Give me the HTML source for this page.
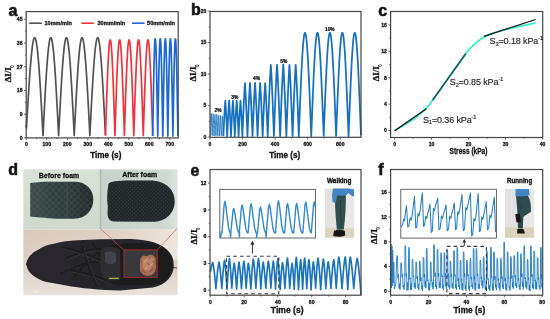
<!DOCTYPE html>
<html><head><meta charset="utf-8"><style>
html,body{margin:0;padding:0;background:#fff;}
body{width:550px;height:319px;overflow:hidden;}
svg{display:block;font-family:"Liberation Sans",sans-serif;filter:blur(0.45px);}
</style></head><body>
<svg width="550" height="319" viewBox="0 0 550 319">
<text x="8.6" y="15.6" font-size="16" text-anchor="start" font-weight="bold" fill="#111" stroke="#111" stroke-width="0.56">a</text>
<text transform="translate(10.6,82.3) rotate(-90)" font-family="Liberation Serif" font-size="9.2" font-weight="bold" fill="#111" stroke="#111" stroke-width="0.3" textLength="15" lengthAdjust="spacingAndGlyphs">ΔI/I</text>
<text transform="translate(13.7,67.9) rotate(-90)" font-family="Liberation Sans" font-size="4.8" font-weight="bold" fill="#333">0</text>
<path d="M26.4,128.41 L26.52,126.4 L26.64,124.38 L26.76,122.37 L26.88,120.35 L27,118.34 L27.12,116.33 L27.24,114.33 L27.36,112.32 L27.48,110.33 L27.6,108.34 L27.72,106.37 L27.84,104.4 L27.96,102.44 L28.08,100.49 L28.2,98.56 L28.32,96.64 L28.44,94.73 L28.57,92.84 L28.69,90.97 L28.81,89.11 L28.93,87.28 L29.05,85.46 L29.17,83.66 L29.29,81.89 L29.41,80.14 L29.53,78.41 L29.65,76.71 L29.77,75.03 L29.89,73.38 L30.01,71.76 L30.13,70.16 L30.25,68.59 L30.37,67.06 L30.49,65.55 L30.61,64.08 L30.73,62.64 L30.85,61.23 L30.97,59.86 L31.09,58.52 L31.21,57.22 L31.33,55.95 L31.45,54.73 L31.57,53.53 L31.69,52.38 L31.81,51.27 L31.93,50.2 L32.05,49.17 L32.17,48.18 L32.29,47.23 L32.41,46.32 L32.53,45.46 L32.66,44.64 L32.78,43.86 L32.9,43.13 L33.02,42.44 L33.14,41.8 L33.26,41.2 L33.38,40.65 L33.5,40.15 L33.62,39.69 L33.74,39.28 L33.86,38.92 L33.98,38.61 L34.1,38.34 L34.22,38.12 L34.34,37.95 L34.46,37.83 L34.58,37.76 L34.7,37.73 L34.82,37.76 L34.94,37.83 L35.06,37.95 L35.18,38.12 L35.3,38.34 L35.42,38.61 L35.54,38.93 L35.66,39.3 L35.78,39.71 L35.9,40.18 L36.02,40.69 L36.14,41.25 L36.26,41.86 L36.38,42.51 L36.5,43.22 L36.62,43.97 L36.74,44.77 L36.87,45.61 L36.99,46.5 L37.11,47.44 L37.23,48.42 L37.35,49.45 L37.47,50.52 L37.59,51.63 L37.71,52.79 L37.83,53.99 L37.95,55.24 L38.07,56.52 L38.19,57.85 L38.31,59.22 L38.43,60.62 L38.55,62.07 L38.67,63.56 L38.79,65.08 L38.91,66.64 L39.03,68.24 L39.15,69.87 L39.27,71.54 L39.39,73.24 L39.51,74.97 L39.63,76.74 L39.75,78.54 L39.87,80.37 L39.99,82.23 L40.11,84.12 L40.23,86.04 L40.35,87.98 L40.47,89.95 L40.59,91.95 L40.71,93.96 L40.83,96.01 L40.96,98.07 L41.08,100.16 L41.2,102.26 L41.32,104.39 L41.44,106.53 L41.56,108.69 L41.68,110.87 L41.8,113.06 L41.92,115.26 L42.04,117.48 L42.16,119.71 L42.28,121.94 L42.4,124.19 L42.52,126.45 L42.64,128.71 L42.76,130.98 L42.88,133.25 L43,135.53 L43.12,133.16 L43.24,130.8 L43.36,128.44 L43.48,126.09 L43.6,123.74 L43.72,121.4 L43.84,119.06 L43.96,116.74 L44.08,114.42 L44.2,112.12 L44.32,109.84 L44.44,107.56 L44.56,105.31 L44.68,103.07 L44.8,100.85 L44.92,98.65 L45.04,96.47 L45.16,94.32 L45.28,92.19 L45.4,90.08 L45.52,88 L45.64,85.95 L45.76,83.93 L45.88,81.93 L46,79.97 L46.12,78.04 L46.24,76.15 L46.36,74.29 L46.48,72.46 L46.6,70.68 L46.72,68.93 L46.84,67.22 L46.97,65.55 L47.09,63.91 L47.21,62.33 L47.33,60.78 L47.45,59.28 L47.57,57.82 L47.69,56.41 L47.81,55.04 L47.93,53.72 L48.05,52.45 L48.17,51.23 L48.29,50.06 L48.41,48.93 L48.53,47.86 L48.65,46.84 L48.77,45.87 L48.89,44.95 L49.01,44.09 L49.13,43.28 L49.25,42.52 L49.37,41.82 L49.49,41.17 L49.61,40.57 L49.73,40.04 L49.85,39.55 L49.97,39.13 L50.09,38.76 L50.21,38.45 L50.33,38.19 L50.45,37.99 L50.57,37.85 L50.69,37.76 L50.81,37.73 L50.93,37.76 L51.05,37.85 L51.17,37.99 L51.29,38.19 L51.41,38.45 L51.53,38.76 L51.65,39.13 L51.77,39.55 L51.89,40.04 L52.01,40.57 L52.13,41.17 L52.25,41.82 L52.37,42.52 L52.49,43.28 L52.61,44.09 L52.73,44.95 L52.85,45.87 L52.97,46.84 L53.09,47.86 L53.21,48.93 L53.33,50.06 L53.45,51.23 L53.57,52.45 L53.69,53.72 L53.81,55.04 L53.93,56.41 L54.05,57.82 L54.17,59.28 L54.29,60.78 L54.41,62.33 L54.53,63.91 L54.65,65.55 L54.78,67.22 L54.9,68.93 L55.02,70.68 L55.14,72.46 L55.26,74.29 L55.38,76.15 L55.5,78.04 L55.62,79.97 L55.74,81.93 L55.86,83.93 L55.98,85.95 L56.1,88 L56.22,90.08 L56.34,92.19 L56.46,94.32 L56.58,96.47 L56.7,98.65 L56.82,100.85 L56.94,103.07 L57.06,105.31 L57.18,107.56 L57.3,109.84 L57.42,112.12 L57.54,114.42 L57.66,116.74 L57.78,119.06 L57.9,121.4 L58.02,123.74 L58.14,126.09 L58.26,128.44 L58.38,130.8 L58.5,133.16 L58.62,135.53 L58.74,133.16 L58.86,130.8 L58.98,128.44 L59.1,126.09 L59.22,123.74 L59.34,121.4 L59.46,119.06 L59.58,116.74 L59.7,114.42 L59.82,112.12 L59.94,109.84 L60.06,107.56 L60.18,105.31 L60.3,103.07 L60.42,100.85 L60.54,98.65 L60.66,96.47 L60.78,94.32 L60.9,92.19 L61.02,90.08 L61.14,88 L61.26,85.95 L61.38,83.93 L61.5,81.93 L61.62,79.97 L61.74,78.04 L61.86,76.15 L61.98,74.29 L62.1,72.46 L62.22,70.68 L62.34,68.93 L62.46,67.22 L62.59,65.55 L62.71,63.91 L62.83,62.33 L62.95,60.78 L63.07,59.28 L63.19,57.82 L63.31,56.41 L63.43,55.04 L63.55,53.72 L63.67,52.45 L63.79,51.23 L63.91,50.06 L64.03,48.93 L64.15,47.86 L64.27,46.84 L64.39,45.87 L64.51,44.95 L64.63,44.09 L64.75,43.28 L64.87,42.52 L64.99,41.82 L65.11,41.17 L65.23,40.57 L65.35,40.04 L65.47,39.55 L65.59,39.13 L65.71,38.76 L65.83,38.45 L65.95,38.19 L66.07,37.99 L66.19,37.85 L66.31,37.76 L66.43,37.73 L66.55,37.76 L66.67,37.85 L66.79,37.99 L66.91,38.19 L67.03,38.45 L67.15,38.76 L67.27,39.13 L67.39,39.55 L67.51,40.04 L67.63,40.57 L67.75,41.17 L67.87,41.82 L67.99,42.52 L68.11,43.28 L68.23,44.09 L68.35,44.95 L68.47,45.87 L68.59,46.84 L68.71,47.86 L68.83,48.93 L68.95,50.06 L69.07,51.23 L69.19,52.45 L69.31,53.72 L69.43,55.04 L69.55,56.41 L69.67,57.82 L69.79,59.28 L69.91,60.78 L70.03,62.33 L70.15,63.91 L70.27,65.55 L70.4,67.22 L70.52,68.93 L70.64,70.68 L70.76,72.46 L70.88,74.29 L71,76.15 L71.12,78.04 L71.24,79.97 L71.36,81.93 L71.48,83.93 L71.6,85.95 L71.72,88 L71.84,90.08 L71.96,92.19 L72.08,94.32 L72.2,96.47 L72.32,98.65 L72.44,100.85 L72.56,103.07 L72.68,105.31 L72.8,107.56 L72.92,109.84 L73.04,112.12 L73.16,114.42 L73.28,116.74 L73.4,119.06 L73.52,121.4 L73.64,123.74 L73.76,126.09 L73.88,128.44 L74,130.8 L74.12,133.16 L74.24,135.53 L74.36,133.16 L74.48,130.8 L74.6,128.44 L74.72,126.09 L74.84,123.74 L74.96,121.4 L75.08,119.06 L75.2,116.74 L75.32,114.42 L75.44,112.12 L75.56,109.84 L75.68,107.56 L75.8,105.31 L75.92,103.07 L76.04,100.85 L76.16,98.65 L76.28,96.47 L76.4,94.32 L76.52,92.19 L76.64,90.08 L76.76,88 L76.88,85.95 L77,83.93 L77.12,81.93 L77.24,79.97 L77.36,78.04 L77.48,76.15 L77.6,74.29 L77.72,72.46 L77.84,70.68 L77.96,68.93 L78.08,67.22 L78.21,65.55 L78.33,63.91 L78.45,62.33 L78.57,60.78 L78.69,59.28 L78.81,57.82 L78.93,56.41 L79.05,55.04 L79.17,53.72 L79.29,52.45 L79.41,51.23 L79.53,50.06 L79.65,48.93 L79.77,47.86 L79.89,46.84 L80.01,45.87 L80.13,44.95 L80.25,44.09 L80.37,43.28 L80.49,42.52 L80.61,41.82 L80.73,41.17 L80.85,40.57 L80.97,40.04 L81.09,39.55 L81.21,39.13 L81.33,38.76 L81.45,38.45 L81.57,38.19 L81.69,37.99 L81.81,37.85 L81.93,37.76 L82.05,37.73 L82.17,37.76 L82.29,37.85 L82.41,37.99 L82.53,38.19 L82.65,38.45 L82.77,38.76 L82.89,39.13 L83.01,39.55 L83.13,40.04 L83.25,40.57 L83.37,41.17 L83.49,41.82 L83.61,42.52 L83.73,43.28 L83.85,44.09 L83.97,44.95 L84.09,45.87 L84.21,46.84 L84.33,47.86 L84.45,48.93 L84.57,50.06 L84.69,51.23 L84.81,52.45 L84.93,53.72 L85.05,55.04 L85.17,56.41 L85.29,57.82 L85.41,59.28 L85.53,60.78 L85.65,62.33 L85.77,63.91 L85.89,65.55 L86.02,67.22 L86.14,68.93 L86.26,70.68 L86.38,72.46 L86.5,74.29 L86.62,76.15 L86.74,78.04 L86.86,79.97 L86.98,81.93 L87.1,83.93 L87.22,85.95 L87.34,88 L87.46,90.08 L87.58,92.19 L87.7,94.32 L87.82,96.47 L87.94,98.65 L88.06,100.85 L88.18,103.07 L88.3,105.31 L88.42,107.56 L88.54,109.84 L88.66,112.12 L88.78,114.42 L88.9,116.74 L89.02,119.06 L89.14,121.4 L89.26,123.74 L89.38,126.09 L89.5,128.44 L89.62,130.8 L89.74,133.16 L89.86,135.53 L89.98,133.16 L90.1,130.8 L90.22,128.44 L90.34,126.09 L90.46,123.74 L90.58,121.4 L90.7,119.06 L90.82,116.74 L90.94,114.42 L91.06,112.12 L91.18,109.84 L91.3,107.56 L91.42,105.31 L91.54,103.07 L91.66,100.85 L91.78,98.65 L91.9,96.47 L92.02,94.32 L92.14,92.19 L92.26,90.08 L92.38,88 L92.5,85.95 L92.62,83.93 L92.74,81.93 L92.86,79.97 L92.98,78.04 L93.1,76.15 L93.22,74.29 L93.34,72.46 L93.46,70.68 L93.58,68.93 L93.7,67.22 L93.83,65.55 L93.95,63.91 L94.07,62.33 L94.19,60.78 L94.31,59.28 L94.43,57.82 L94.55,56.41 L94.67,55.04 L94.79,53.72 L94.91,52.45 L95.03,51.23 L95.15,50.06 L95.27,48.93 L95.39,47.86 L95.51,46.84 L95.63,45.87 L95.75,44.95 L95.87,44.09 L95.99,43.28 L96.11,42.52 L96.23,41.82 L96.35,41.17 L96.47,40.57 L96.59,40.04 L96.71,39.55 L96.83,39.13 L96.95,38.76 L97.07,38.45 L97.19,38.19 L97.31,37.99 L97.43,37.85 L97.55,37.76 L97.67,37.73 L97.79,37.76 L97.91,37.85 L98.03,37.99 L98.15,38.19 L98.27,38.45 L98.39,38.76 L98.51,39.13 L98.63,39.55 L98.75,40.04 L98.87,40.57 L98.99,41.17 L99.11,41.82 L99.23,42.52 L99.35,43.28 L99.47,44.09 L99.59,44.95 L99.71,45.87 L99.83,46.84 L99.95,47.86 L100.07,48.93 L100.19,50.06 L100.31,51.23 L100.43,52.45 L100.55,53.72 L100.67,55.04 L100.79,56.41 L100.91,57.82 L101.03,59.28 L101.15,60.78 L101.27,62.33 L101.39,63.91 L101.51,65.55 L101.64,67.22 L101.76,68.93 L101.88,70.68 L102,72.46 L102.12,74.29 L102.24,76.15 L102.36,78.04 L102.48,79.97 L102.6,81.93 L102.72,83.93 L102.84,85.95 L102.96,88 L103.08,90.08 L103.2,92.19 L103.32,94.32 L103.44,96.47 L103.56,98.65 L103.68,100.85 L103.8,103.07 L103.92,105.31 L104.04,107.56 L104.16,109.84 L104.28,112.12 L104.4,114.42 L104.52,116.74 L104.64,119.06 L104.76,121.4 L104.88,123.74 L105,126.09 L105.12,128.44 L105.24,130.8 L105.36,133.16 L105.48,135.53" stroke="#525252" stroke-width="1.7" fill="none" stroke-linejoin="round"/>
<path d="M105.5,135.53 L105.62,131.67 L105.74,127.83 L105.86,123.99 L105.98,120.18 L106.11,116.39 L106.23,112.63 L106.35,108.91 L106.47,105.23 L106.59,101.6 L106.71,98.02 L106.83,94.51 L106.95,91.06 L107.07,87.68 L107.19,84.39 L107.32,81.17 L107.44,78.04 L107.56,75.01 L107.68,72.08 L107.8,69.24 L107.92,66.52 L108.04,63.91 L108.16,61.41 L108.28,59.03 L108.4,56.78 L108.53,54.65 L108.65,52.66 L108.77,50.8 L108.89,49.08 L109.01,47.5 L109.13,46.06 L109.25,44.77 L109.37,43.62 L109.49,42.62 L109.61,41.77 L109.74,41.08 L109.86,40.54 L109.98,40.15 L110.1,39.92 L110.22,39.84 L110.34,39.92 L110.46,40.15 L110.58,40.54 L110.7,41.08 L110.83,41.77 L110.95,42.62 L111.07,43.62 L111.19,44.77 L111.31,46.06 L111.43,47.5 L111.55,49.08 L111.67,50.8 L111.79,52.66 L111.91,54.65 L112.04,56.78 L112.16,59.03 L112.28,61.41 L112.4,63.91 L112.52,66.52 L112.64,69.24 L112.76,72.08 L112.88,75.01 L113,78.04 L113.12,81.17 L113.25,84.39 L113.37,87.68 L113.49,91.06 L113.61,94.51 L113.73,98.02 L113.85,101.6 L113.97,105.23 L114.09,108.91 L114.21,112.63 L114.33,116.39 L114.46,120.18 L114.58,123.99 L114.7,127.83 L114.82,131.67 L114.94,135.53 L115.06,131.67 L115.18,127.83 L115.3,123.99 L115.42,120.18 L115.55,116.39 L115.67,112.63 L115.79,108.91 L115.91,105.23 L116.03,101.6 L116.15,98.02 L116.27,94.51 L116.39,91.06 L116.51,87.68 L116.63,84.39 L116.76,81.17 L116.88,78.04 L117,75.01 L117.12,72.08 L117.24,69.24 L117.36,66.52 L117.48,63.91 L117.6,61.41 L117.72,59.03 L117.84,56.78 L117.97,54.65 L118.09,52.66 L118.21,50.8 L118.33,49.08 L118.45,47.5 L118.57,46.06 L118.69,44.77 L118.81,43.62 L118.93,42.62 L119.05,41.77 L119.18,41.08 L119.3,40.54 L119.42,40.15 L119.54,39.92 L119.66,39.84 L119.78,39.92 L119.9,40.15 L120.02,40.54 L120.14,41.08 L120.27,41.77 L120.39,42.62 L120.51,43.62 L120.63,44.77 L120.75,46.06 L120.87,47.5 L120.99,49.08 L121.11,50.8 L121.23,52.66 L121.35,54.65 L121.48,56.78 L121.6,59.03 L121.72,61.41 L121.84,63.91 L121.96,66.52 L122.08,69.24 L122.2,72.08 L122.32,75.01 L122.44,78.04 L122.56,81.17 L122.69,84.39 L122.81,87.68 L122.93,91.06 L123.05,94.51 L123.17,98.02 L123.29,101.6 L123.41,105.23 L123.53,108.91 L123.65,112.63 L123.77,116.39 L123.9,120.18 L124.02,123.99 L124.14,127.83 L124.26,131.67 L124.38,135.53 L124.5,131.67 L124.62,127.83 L124.74,123.99 L124.86,120.18 L124.99,116.39 L125.11,112.63 L125.23,108.91 L125.35,105.23 L125.47,101.6 L125.59,98.02 L125.71,94.51 L125.83,91.06 L125.95,87.68 L126.07,84.39 L126.2,81.17 L126.32,78.04 L126.44,75.01 L126.56,72.08 L126.68,69.24 L126.8,66.52 L126.92,63.91 L127.04,61.41 L127.16,59.03 L127.28,56.78 L127.41,54.65 L127.53,52.66 L127.65,50.8 L127.77,49.08 L127.89,47.5 L128.01,46.06 L128.13,44.77 L128.25,43.62 L128.37,42.62 L128.49,41.77 L128.62,41.08 L128.74,40.54 L128.86,40.15 L128.98,39.92 L129.1,39.84 L129.22,39.92 L129.34,40.15 L129.46,40.54 L129.58,41.08 L129.71,41.77 L129.83,42.62 L129.95,43.62 L130.07,44.77 L130.19,46.06 L130.31,47.5 L130.43,49.08 L130.55,50.8 L130.67,52.66 L130.79,54.65 L130.92,56.78 L131.04,59.03 L131.16,61.41 L131.28,63.91 L131.4,66.52 L131.52,69.24 L131.64,72.08 L131.76,75.01 L131.88,78.04 L132,81.17 L132.13,84.39 L132.25,87.68 L132.37,91.06 L132.49,94.51 L132.61,98.02 L132.73,101.6 L132.85,105.23 L132.97,108.91 L133.09,112.63 L133.21,116.39 L133.34,120.18 L133.46,123.99 L133.58,127.83 L133.7,131.67 L133.82,135.53 L133.94,131.67 L134.06,127.83 L134.18,123.99 L134.3,120.18 L134.43,116.39 L134.55,112.63 L134.67,108.91 L134.79,105.23 L134.91,101.6 L135.03,98.02 L135.15,94.51 L135.27,91.06 L135.39,87.68 L135.51,84.39 L135.64,81.17 L135.76,78.04 L135.88,75.01 L136,72.08 L136.12,69.24 L136.24,66.52 L136.36,63.91 L136.48,61.41 L136.6,59.03 L136.72,56.78 L136.85,54.65 L136.97,52.66 L137.09,50.8 L137.21,49.08 L137.33,47.5 L137.45,46.06 L137.57,44.77 L137.69,43.62 L137.81,42.62 L137.93,41.77 L138.06,41.08 L138.18,40.54 L138.3,40.15 L138.42,39.92 L138.54,39.84 L138.66,39.92 L138.78,40.15 L138.9,40.54 L139.02,41.08 L139.15,41.77 L139.27,42.62 L139.39,43.62 L139.51,44.77 L139.63,46.06 L139.75,47.5 L139.87,49.08 L139.99,50.8 L140.11,52.66 L140.23,54.65 L140.36,56.78 L140.48,59.03 L140.6,61.41 L140.72,63.91 L140.84,66.52 L140.96,69.24 L141.08,72.08 L141.2,75.01 L141.32,78.04 L141.44,81.17 L141.57,84.39 L141.69,87.68 L141.81,91.06 L141.93,94.51 L142.05,98.02 L142.17,101.6 L142.29,105.23 L142.41,108.91 L142.53,112.63 L142.65,116.39 L142.78,120.18 L142.9,123.99 L143.02,127.83 L143.14,131.67 L143.26,135.53 L143.38,131.67 L143.5,127.83 L143.62,123.99 L143.74,120.18 L143.87,116.39 L143.99,112.63 L144.11,108.91 L144.23,105.23 L144.35,101.6 L144.47,98.02 L144.59,94.51 L144.71,91.06 L144.83,87.68 L144.95,84.39 L145.08,81.17 L145.2,78.04 L145.32,75.01 L145.44,72.08 L145.56,69.24 L145.68,66.52 L145.8,63.91 L145.92,61.41 L146.04,59.03 L146.16,56.78 L146.29,54.65 L146.41,52.66 L146.53,50.8 L146.65,49.08 L146.77,47.5 L146.89,46.06 L147.01,44.77 L147.13,43.62 L147.25,42.62 L147.37,41.77 L147.5,41.08 L147.62,40.54 L147.74,40.15 L147.86,39.92 L147.98,39.84 L148.1,39.92 L148.22,40.15 L148.34,40.54 L148.46,41.08 L148.59,41.77 L148.71,42.62 L148.83,43.62 L148.95,44.77 L149.07,46.06 L149.19,47.5 L149.31,49.08 L149.43,50.8 L149.55,52.66 L149.67,54.65 L149.8,56.78 L149.92,59.03 L150.04,61.41 L150.16,63.91 L150.28,66.52 L150.4,69.24 L150.52,72.08 L150.64,75.01 L150.76,78.04 L150.88,81.17 L151.01,84.39 L151.13,87.68 L151.25,91.06 L151.37,94.51 L151.49,98.02 L151.61,101.6 L151.73,105.23 L151.85,108.91 L151.97,112.63 L152.09,116.39 L152.22,120.18 L152.34,123.99 L152.46,127.83 L152.58,131.67 L152.7,135.53" stroke="#f0343c" stroke-width="1.7" fill="none" stroke-linejoin="round"/>
<path d="M152.7,136.05 L152.78,131.21 L152.86,126.37 L152.94,121.56 L153.02,116.78 L153.1,112.05 L153.18,107.38 L153.26,102.79 L153.34,98.27 L153.42,93.85 L153.5,89.54 L153.58,85.34 L153.66,81.26 L153.74,77.32 L153.82,73.53 L153.9,69.9 L153.98,66.42 L154.06,63.12 L154.14,60.01 L154.22,57.08 L154.3,54.35 L154.38,51.82 L154.46,49.5 L154.54,47.39 L154.62,45.51 L154.7,43.85 L154.78,42.42 L154.86,41.23 L154.94,40.26 L155.02,39.54 L155.1,39.06 L155.18,38.82 L155.27,38.82 L155.35,39.06 L155.43,39.54 L155.51,40.26 L155.59,41.23 L155.67,42.42 L155.75,43.85 L155.83,45.51 L155.91,47.39 L155.99,49.5 L156.07,51.82 L156.15,54.35 L156.23,57.08 L156.31,60.01 L156.39,63.12 L156.47,66.42 L156.55,69.9 L156.63,73.53 L156.71,77.32 L156.79,81.26 L156.87,85.34 L156.95,89.54 L157.03,93.85 L157.11,98.27 L157.19,102.79 L157.27,107.38 L157.35,112.05 L157.43,116.78 L157.51,121.56 L157.59,126.37 L157.67,131.21 L157.75,136.05 L157.83,131.21 L157.91,126.37 L157.99,121.56 L158.07,116.78 L158.15,112.05 L158.23,107.38 L158.31,102.79 L158.39,98.27 L158.47,93.85 L158.55,89.54 L158.63,85.34 L158.71,81.26 L158.79,77.32 L158.87,73.53 L158.95,69.9 L159.03,66.42 L159.11,63.12 L159.19,60.01 L159.27,57.08 L159.35,54.35 L159.43,51.82 L159.51,49.5 L159.59,47.39 L159.67,45.51 L159.75,43.85 L159.83,42.42 L159.91,41.23 L159.99,40.26 L160.07,39.54 L160.15,39.06 L160.23,38.82 L160.32,38.82 L160.4,39.06 L160.48,39.54 L160.56,40.26 L160.64,41.23 L160.72,42.42 L160.8,43.85 L160.88,45.51 L160.96,47.39 L161.04,49.5 L161.12,51.82 L161.2,54.35 L161.28,57.08 L161.36,60.01 L161.44,63.12 L161.52,66.42 L161.6,69.9 L161.68,73.53 L161.76,77.32 L161.84,81.26 L161.92,85.34 L162,89.54 L162.08,93.85 L162.16,98.27 L162.24,102.79 L162.32,107.38 L162.4,112.05 L162.48,116.78 L162.56,121.56 L162.64,126.37 L162.72,131.21 L162.8,136.05 L162.88,131.21 L162.96,126.37 L163.04,121.56 L163.12,116.78 L163.2,112.05 L163.28,107.38 L163.36,102.79 L163.44,98.27 L163.52,93.85 L163.6,89.54 L163.68,85.34 L163.76,81.26 L163.84,77.32 L163.92,73.53 L164,69.9 L164.08,66.42 L164.16,63.12 L164.24,60.01 L164.32,57.08 L164.4,54.35 L164.48,51.82 L164.56,49.5 L164.64,47.39 L164.72,45.51 L164.8,43.85 L164.88,42.42 L164.96,41.23 L165.04,40.26 L165.12,39.54 L165.2,39.06 L165.28,38.82 L165.37,38.82 L165.45,39.06 L165.53,39.54 L165.61,40.26 L165.69,41.23 L165.77,42.42 L165.85,43.85 L165.93,45.51 L166.01,47.39 L166.09,49.5 L166.17,51.82 L166.25,54.35 L166.33,57.08 L166.41,60.01 L166.49,63.12 L166.57,66.42 L166.65,69.9 L166.73,73.53 L166.81,77.32 L166.89,81.26 L166.97,85.34 L167.05,89.54 L167.13,93.85 L167.21,98.27 L167.29,102.79 L167.37,107.38 L167.45,112.05 L167.53,116.78 L167.61,121.56 L167.69,126.37 L167.77,131.21 L167.85,136.05 L167.93,131.21 L168.01,126.37 L168.09,121.56 L168.17,116.78 L168.25,112.05 L168.33,107.38 L168.41,102.79 L168.49,98.27 L168.57,93.85 L168.65,89.54 L168.73,85.34 L168.81,81.26 L168.89,77.32 L168.97,73.53 L169.05,69.9 L169.13,66.42 L169.21,63.12 L169.29,60.01 L169.37,57.08 L169.45,54.35 L169.53,51.82 L169.61,49.5 L169.69,47.39 L169.77,45.51 L169.85,43.85 L169.93,42.42 L170.01,41.23 L170.09,40.26 L170.17,39.54 L170.25,39.06 L170.33,38.82 L170.42,38.82 L170.5,39.06 L170.58,39.54 L170.66,40.26 L170.74,41.23 L170.82,42.42 L170.9,43.85 L170.98,45.51 L171.06,47.39 L171.14,49.5 L171.22,51.82 L171.3,54.35 L171.38,57.08 L171.46,60.01 L171.54,63.12 L171.62,66.42 L171.7,69.9 L171.78,73.53 L171.86,77.32 L171.94,81.26 L172.02,85.34 L172.1,89.54 L172.18,93.85 L172.26,98.27 L172.34,102.79 L172.42,107.38 L172.5,112.05 L172.58,116.78 L172.66,121.56 L172.74,126.37 L172.82,131.21 L172.9,136.05 L172.98,131.21 L173.06,126.37 L173.14,121.56 L173.22,116.78 L173.3,112.05 L173.38,107.38 L173.46,102.79 L173.54,98.27 L173.62,93.85 L173.7,89.54 L173.78,85.34 L173.86,81.26 L173.94,77.32 L174.02,73.53 L174.1,69.9 L174.18,66.42 L174.26,63.12 L174.34,60.01 L174.42,57.08 L174.5,54.35 L174.58,51.82 L174.66,49.5 L174.74,47.39 L174.82,45.51 L174.9,43.85 L174.98,42.42 L175.06,41.23 L175.14,40.26 L175.22,39.54 L175.3,39.06 L175.38,38.82 L175.47,38.82 L175.55,39.06 L175.63,39.54 L175.71,40.26 L175.79,41.23 L175.87,42.42 L175.95,43.85 L176.03,45.51 L176.11,47.39 L176.19,49.5 L176.27,51.82 L176.35,54.35 L176.43,57.08 L176.51,60.01 L176.59,63.12 L176.67,66.42 L176.75,69.9 L176.83,73.53 L176.91,77.32 L176.99,81.26 L177.07,85.34 L177.15,89.54 L177.23,93.85 L177.31,98.27 L177.39,102.79 L177.47,107.38 L177.55,112.05 L177.63,116.78 L177.71,121.56 L177.79,126.37 L177.87,131.21 L177.95,136.05" stroke="#1c67d6" stroke-width="1.7" fill="none" stroke-linejoin="round"/>
<rect x="26.2" y="11.6" width="152" height="126.3" fill="none" stroke="#444" stroke-width="1.2"/>
<text x="22.5" y="139.7" font-size="5.1" text-anchor="end" font-weight="bold" fill="#111" stroke="#111" stroke-width="0.26">0</text>
<text x="22.5" y="115.98" font-size="5.1" text-anchor="end" font-weight="bold" fill="#111" stroke="#111" stroke-width="0.26">9</text>
<text x="22.5" y="92.25" font-size="5.1" text-anchor="end" font-weight="bold" fill="#111" stroke="#111" stroke-width="0.26">18</text>
<text x="22.5" y="68.53" font-size="5.1" text-anchor="end" font-weight="bold" fill="#111" stroke="#111" stroke-width="0.26">27</text>
<text x="22.5" y="44.8" font-size="5.1" text-anchor="end" font-weight="bold" fill="#111" stroke="#111" stroke-width="0.26">36</text>
<text x="22.5" y="21.08" font-size="5.1" text-anchor="end" font-weight="bold" fill="#111" stroke="#111" stroke-width="0.26">45</text>
<path d="M26.2,137.9h-2.2M26.2,126.04h-1.3M26.2,114.18h-2.2M26.2,102.31h-1.3M26.2,90.45h-2.2M26.2,78.59h-1.3M26.2,66.73h-2.2M26.2,54.87h-1.3M26.2,43h-2.2M26.2,31.14h-1.3M26.2,19.28h-2.2" stroke="#444" stroke-width="0.8" fill="none"/>
<text x="26.3" y="146.1" font-size="5.1" text-anchor="middle" font-weight="bold" fill="#111" stroke="#111" stroke-width="0.26">0</text>
<text x="46.79" y="146.1" font-size="5.1" text-anchor="middle" font-weight="bold" fill="#111" stroke="#111" stroke-width="0.26">100</text>
<text x="67.28" y="146.1" font-size="5.1" text-anchor="middle" font-weight="bold" fill="#111" stroke="#111" stroke-width="0.26">200</text>
<text x="87.77" y="146.1" font-size="5.1" text-anchor="middle" font-weight="bold" fill="#111" stroke="#111" stroke-width="0.26">300</text>
<text x="108.26" y="146.1" font-size="5.1" text-anchor="middle" font-weight="bold" fill="#111" stroke="#111" stroke-width="0.26">400</text>
<text x="128.75" y="146.1" font-size="5.1" text-anchor="middle" font-weight="bold" fill="#111" stroke="#111" stroke-width="0.26">500</text>
<text x="149.24" y="146.1" font-size="5.1" text-anchor="middle" font-weight="bold" fill="#111" stroke="#111" stroke-width="0.26">600</text>
<text x="169.73" y="146.1" font-size="5.1" text-anchor="middle" font-weight="bold" fill="#111" stroke="#111" stroke-width="0.26">700</text>
<path d="M26.3,137.9v2.2M36.55,137.9v1.3M46.79,137.9v2.2M57.03,137.9v1.3M67.28,137.9v2.2M77.53,137.9v1.3M87.77,137.9v2.2M98.02,137.9v1.3M108.26,137.9v2.2M118.5,137.9v1.3M128.75,137.9v2.2M139,137.9v1.3M149.24,137.9v2.2M159.49,137.9v1.3M169.73,137.9v2.2" stroke="#444" stroke-width="0.8" fill="none"/>
<path d="M29.2,23.2H41.9" stroke="#525252" stroke-width="1.6"/>
<text x="44.5" y="24.9" font-size="5.5" text-anchor="start" font-weight="bold" fill="#111" stroke="#111" stroke-width="0.28" textLength="27.3" lengthAdjust="spacingAndGlyphs">10mm/min</text>
<path d="M81.4,23.2H93.8" stroke="#f0343c" stroke-width="1.6"/>
<text x="97.5" y="24.9" font-size="5.5" text-anchor="start" font-weight="bold" fill="#111" stroke="#111" stroke-width="0.28" textLength="27.8" lengthAdjust="spacingAndGlyphs">30mm/min</text>
<path d="M132,23.2H144.6" stroke="#1c67d6" stroke-width="1.6"/>
<text x="147" y="24.9" font-size="5.5" text-anchor="start" font-weight="bold" fill="#111" stroke="#111" stroke-width="0.28" textLength="28" lengthAdjust="spacingAndGlyphs">50mm/min</text>
<text x="105.8" y="157.6" font-size="8.3" text-anchor="middle" font-weight="bold" fill="#111" stroke="#111" stroke-width="0.29" textLength="31.1" lengthAdjust="spacingAndGlyphs">Time (s)</text>
<text x="191" y="15.4" font-size="16" text-anchor="start" font-weight="bold" fill="#111" stroke="#111" stroke-width="0.56">b</text>
<text transform="translate(195.6,81.6) rotate(-90)" font-family="Liberation Serif" font-size="9.2" font-weight="bold" fill="#111" stroke="#111" stroke-width="0.3" textLength="15" lengthAdjust="spacingAndGlyphs">ΔI/I</text>
<text transform="translate(198.7,67.2) rotate(-90)" font-family="Liberation Sans" font-size="4.8" font-weight="bold" fill="#333">0</text>
<path d="M210.3,136.16 L210.35,134.79 L210.4,133.42 L210.45,132.06 L210.5,130.71 L210.55,129.37 L210.6,128.04 L210.65,126.72 L210.7,125.43 L210.75,124.16 L210.8,122.9 L210.85,121.67 L210.9,120.47 L210.95,119.3 L211,118.15 L211.05,117.03 L211.1,115.95 L211.15,114.89 L211.2,113.87 L211.25,113.44 L211.3,114.45 L211.35,115.49 L211.4,116.56 L211.45,117.67 L211.5,118.8 L211.55,119.96 L211.6,121.16 L211.65,122.37 L211.7,123.62 L211.75,124.88 L211.8,126.17 L211.85,127.47 L211.9,128.79 L211.95,130.13 L212,131.48 L212.05,132.84 L212.1,134.2 L212.15,135.57 L212.2,135.39 L212.25,134.05 L212.3,132.71 L212.35,131.38 L212.4,130.06 L212.45,128.75 L212.5,127.46 L212.55,126.18 L212.6,124.92 L212.65,123.68 L212.7,122.47 L212.75,121.27 L212.8,120.11 L212.85,118.97 L212.9,117.87 L212.95,116.79 L213,115.74 L213.05,114.72 L213.1,113.74 L213.15,114.44 L213.2,115.45 L213.25,116.48 L213.3,117.55 L213.35,118.65 L213.4,119.78 L213.45,120.94 L213.5,122.12 L213.55,123.33 L213.6,124.56 L213.65,125.82 L213.7,127.09 L213.75,128.38 L213.8,129.68 L213.85,131 L213.9,132.33 L213.95,133.66 L214,135 L214.05,135.97 L214.1,134.65 L214.15,133.34 L214.2,132.03 L214.25,130.73 L214.3,129.44 L214.35,128.17 L214.4,126.91 L214.45,125.66 L214.5,124.44 L214.55,123.24 L214.6,122.06 L214.65,120.91 L214.7,119.78 L214.75,118.68 L214.8,117.62 L214.85,116.58 L214.9,115.57 L214.95,114.59 L215,114.45 L215.05,115.42 L215.1,116.43 L215.15,117.46 L215.2,118.53 L215.25,119.62 L215.3,120.75 L215.35,121.9 L215.4,123.07 L215.45,124.27 L215.5,125.49 L215.55,126.73 L215.6,127.99 L215.65,129.26 L215.7,130.55 L215.75,131.84 L215.8,133.15 L215.85,134.46 L215.9,135.78 L215.95,135.23 L216,133.95 L216.05,132.66 L216.1,131.38 L216.15,130.12 L216.2,128.86 L216.25,127.62 L216.3,126.39 L216.35,125.19 L216.4,124 L216.45,122.84 L216.5,121.69 L216.55,120.58 L216.6,119.49 L216.65,118.43 L216.7,117.4 L216.75,116.4 L216.8,115.42 L216.85,114.48 L216.9,115.42 L216.95,116.4 L217,117.4 L217.05,118.43 L217.1,119.49 L217.15,120.58 L217.2,121.69 L217.25,122.84 L217.3,124 L217.35,125.19 L217.4,126.39 L217.45,127.62 L217.5,128.86 L217.55,130.12 L217.6,131.38 L217.65,132.66 L217.7,133.95 L217.75,135.23 L217.8,135.79 L217.85,134.53 L217.9,133.27 L217.95,132.02 L218,130.77 L218.05,129.54 L218.1,128.31 L218.15,127.1 L218.2,125.91 L218.25,124.74 L218.3,123.59 L218.35,122.47 L218.4,121.36 L218.45,120.28 L218.5,119.23 L218.55,118.21 L218.6,117.22 L218.65,116.25 L218.7,115.32 L218.75,115.45 L218.8,116.39 L218.85,117.36 L218.9,118.35 L218.95,119.38 L219,120.44 L219.05,121.52 L219.1,122.62 L219.15,123.76 L219.2,124.91 L219.25,126.08 L219.3,127.28 L219.35,128.49 L219.4,129.71 L219.45,130.95 L219.5,132.2 L219.55,133.45 L219.6,134.71 L219.65,135.97 L219.7,135.09 L219.75,133.86 L219.8,132.63 L219.85,131.4 L219.9,130.19 L219.95,128.99 L220,127.8 L220.05,126.62 L220.1,125.47 L220.15,124.33 L220.2,123.22 L220.25,122.13 L220.3,121.06 L220.35,120.02 L220.4,119.01 L220.45,118.02 L220.5,117.07 L220.55,116.14 L220.6,115.49 L220.65,116.4 L220.7,117.34 L220.75,118.3 L220.8,119.3 L220.85,120.32 L220.9,121.36 L220.95,122.44 L221,123.54 L221.05,124.66 L221.1,125.8 L221.15,126.96 L221.2,128.14 L221.25,129.33 L221.3,130.54 L221.35,131.75 L221.4,132.98 L221.45,134.21 L221.5,135.45 L221.55,135.64 L221.6,134.43 L221.65,133.22 L221.7,132.02 L221.75,130.82 L221.8,129.64 L221.85,128.47 L221.9,127.32 L221.95,126.18 L222,125.06 L222.05,123.96 L222.1,122.88 L222.15,121.83 L222.2,120.8 L222.25,119.79 L222.3,118.82 L222.35,117.87 L222.4,116.95 L222.45,116.06 L222.5,116.43 L222.55,117.34 L222.6,118.27 L222.65,119.23 L222.7,120.22 L222.75,121.24 L222.8,122.28 L222.85,123.34 L222.9,124.43 L222.95,125.54 L223,126.66 L223.05,127.81 L223.1,128.97 L223.15,130.15 L223.2,131.33 L223.25,132.53 L223.3,133.74 L223.35,134.94" stroke="#1570bf" stroke-width="0.9" fill="none" stroke-linejoin="round"/>
<path d="M223.4,136.16 L223.45,135.06 L223.5,133.97 L223.55,132.88 L223.6,131.79 L223.65,130.7 L223.7,129.62 L223.75,128.55 L223.8,127.47 L223.85,126.41 L223.9,125.35 L223.95,124.29 L224,123.25 L224.05,122.21 L224.1,121.19 L224.15,120.17 L224.2,119.17 L224.25,118.17 L224.3,117.19 L224.35,116.22 L224.4,115.26 L224.45,114.31 L224.5,113.38 L224.55,112.47 L224.6,111.57 L224.65,110.68 L224.7,109.81 L224.75,108.95 L224.8,108.12 L224.85,107.29 L224.9,106.49 L224.95,105.7 L225,104.93 L225.05,104.18 L225.1,103.44 L225.15,102.73 L225.2,102.03 L225.25,101.35 L225.3,100.69 L225.35,101.35 L225.4,102.03 L225.45,102.73 L225.5,103.44 L225.55,104.18 L225.6,104.93 L225.65,105.7 L225.7,106.49 L225.75,107.29 L225.8,108.12 L225.85,108.95 L225.9,109.81 L225.95,110.68 L226,111.57 L226.05,112.47 L226.1,113.38 L226.15,114.31 L226.2,115.26 L226.25,116.22 L226.3,117.19 L226.35,118.17 L226.4,119.17 L226.45,120.17 L226.5,121.19 L226.55,122.21 L226.6,123.25 L226.65,124.29 L226.7,125.35 L226.75,126.41 L226.8,127.47 L226.85,128.55 L226.9,129.62 L226.95,130.7 L227,131.79 L227.05,132.88 L227.1,133.97 L227.15,135.06 L227.2,136.15 L227.25,135.06 L227.3,133.97 L227.35,132.88 L227.4,131.79 L227.45,130.7 L227.5,129.62 L227.55,128.55 L227.6,127.47 L227.65,126.41 L227.7,125.35 L227.75,124.29 L227.8,123.25 L227.85,122.21 L227.9,121.19 L227.95,120.17 L228,119.17 L228.05,118.17 L228.1,117.19 L228.15,116.22 L228.2,115.26 L228.25,114.31 L228.3,113.38 L228.35,112.47 L228.4,111.57 L228.45,110.68 L228.5,109.81 L228.55,108.95 L228.6,108.12 L228.65,107.29 L228.7,106.49 L228.75,105.7 L228.8,104.93 L228.85,104.18 L228.9,103.44 L228.95,102.73 L229,102.03 L229.05,101.35 L229.1,100.69 L229.15,101.35 L229.2,102.03 L229.25,102.73 L229.3,103.44 L229.35,104.18 L229.4,104.93 L229.45,105.7 L229.5,106.49 L229.55,107.29 L229.6,108.12 L229.65,108.95 L229.7,109.81 L229.75,110.68 L229.8,111.57 L229.85,112.47 L229.9,113.38 L229.95,114.31 L230,115.26 L230.05,116.22 L230.1,117.19 L230.15,118.17 L230.2,119.17 L230.25,120.17 L230.3,121.19 L230.35,122.21 L230.4,123.25 L230.45,124.29 L230.5,125.35 L230.55,126.41 L230.6,127.47 L230.65,128.55 L230.7,129.62 L230.75,130.7 L230.8,131.79 L230.85,132.88 L230.9,133.97 L230.95,135.06 L231,136.15 L231.05,135.06 L231.1,133.97 L231.15,132.88 L231.2,131.79 L231.25,130.7 L231.3,129.62 L231.35,128.55 L231.4,127.47 L231.45,126.41 L231.5,125.35 L231.55,124.29 L231.6,123.25 L231.65,122.21 L231.7,121.19 L231.75,120.17 L231.8,119.17 L231.85,118.17 L231.9,117.19 L231.95,116.22 L232,115.26 L232.05,114.31 L232.1,113.38 L232.15,112.47 L232.2,111.57 L232.25,110.68 L232.3,109.81 L232.35,108.95 L232.4,108.12 L232.45,107.29 L232.5,106.49 L232.55,105.7 L232.6,104.93 L232.65,104.18 L232.7,103.44 L232.75,102.73 L232.8,102.03 L232.85,101.35 L232.9,100.69 L232.95,101.35 L233,102.03 L233.05,102.73 L233.1,103.44 L233.15,104.18 L233.2,104.93 L233.25,105.7 L233.3,106.49 L233.35,107.29 L233.4,108.12 L233.45,108.95 L233.5,109.81 L233.55,110.68 L233.6,111.57 L233.65,112.47 L233.7,113.38 L233.75,114.31 L233.8,115.26 L233.85,116.22 L233.9,117.19 L233.95,118.17 L234,119.17 L234.05,120.17 L234.1,121.19 L234.15,122.21 L234.2,123.25 L234.25,124.29 L234.3,125.35 L234.35,126.41 L234.4,127.47 L234.45,128.55 L234.5,129.62 L234.55,130.7 L234.6,131.79 L234.65,132.88 L234.7,133.97 L234.75,135.06 L234.8,136.15 L234.85,135.06 L234.9,133.97 L234.95,132.88 L235,131.79 L235.05,130.7 L235.1,129.62 L235.15,128.55 L235.2,127.47 L235.25,126.41 L235.3,125.35 L235.35,124.29 L235.4,123.25 L235.45,122.21 L235.5,121.19 L235.55,120.17 L235.6,119.17 L235.65,118.17 L235.7,117.19 L235.75,116.22 L235.8,115.26 L235.85,114.31 L235.9,113.38 L235.95,112.47 L236,111.57 L236.05,110.68 L236.1,109.81 L236.15,108.95 L236.2,108.12 L236.25,107.29 L236.3,106.49 L236.35,105.7 L236.4,104.93 L236.45,104.18 L236.5,103.44 L236.55,102.73 L236.6,102.03 L236.65,101.35 L236.7,100.69 L236.75,101.35 L236.8,102.03 L236.85,102.73 L236.9,103.44 L236.95,104.18 L237,104.93 L237.05,105.7 L237.1,106.49 L237.15,107.29 L237.2,108.12 L237.25,108.95 L237.3,109.81 L237.35,110.68 L237.4,111.57 L237.45,112.47 L237.5,113.38 L237.55,114.31 L237.6,115.26 L237.65,116.22 L237.7,117.19 L237.75,118.17 L237.8,119.17 L237.85,120.17 L237.9,121.19 L237.95,122.21 L238,123.25 L238.05,124.29 L238.1,125.35 L238.15,126.41 L238.2,127.47 L238.25,128.55 L238.3,129.62 L238.35,130.7 L238.4,131.79 L238.45,132.88 L238.5,133.97 L238.55,135.06 L238.6,136.15 L238.65,135.06 L238.7,133.97 L238.75,132.88 L238.8,131.79 L238.85,130.7 L238.9,129.62 L238.95,128.55 L239,127.47 L239.05,126.41 L239.1,125.35 L239.15,124.29 L239.2,123.25 L239.25,122.21 L239.3,121.19 L239.35,120.17 L239.4,119.17 L239.45,118.17 L239.5,117.19 L239.55,116.22 L239.6,115.26 L239.65,114.31 L239.7,113.38 L239.75,112.47 L239.8,111.57 L239.85,110.68 L239.9,109.81 L239.95,108.95 L240,108.12 L240.05,107.29 L240.1,106.49 L240.15,105.7 L240.2,104.93 L240.25,104.18 L240.3,103.44 L240.35,102.73 L240.4,102.03 L240.45,101.35 L240.5,100.69 L240.55,101.35 L240.6,102.03 L240.65,102.73 L240.7,103.44 L240.75,104.18 L240.8,104.93 L240.85,105.7 L240.9,106.49 L240.95,107.29 L241,108.12 L241.05,108.95 L241.1,109.81 L241.15,110.68 L241.2,111.57 L241.25,112.47 L241.3,113.38 L241.35,114.31 L241.4,115.26 L241.45,116.22 L241.5,117.19 L241.55,118.17 L241.6,119.17 L241.65,120.17 L241.7,121.19 L241.75,122.21 L241.8,123.25 L241.85,124.29 L241.9,125.35 L241.95,126.41 L242,127.47 L242.05,128.55 L242.1,129.62 L242.15,130.7 L242.2,131.79 L242.25,132.88 L242.3,133.97 L242.35,135.06 L242.4,136.16 L242.4,136.47 L242.45,135.23 L242.5,133.99 L242.55,132.74 L242.6,131.51 L242.65,130.27 L242.7,129.03 L242.75,127.8 L242.8,126.57 L242.85,125.35 L242.9,124.13 L242.95,122.91 L243,121.7 L243.05,120.49 L243.1,119.29 L243.15,118.1 L243.2,116.92 L243.25,115.74 L243.3,114.57 L243.35,113.4 L243.4,112.25 L243.45,111.11 L243.5,109.97 L243.55,108.85 L243.6,107.73 L243.65,106.63 L243.7,105.53 L243.75,104.45 L243.8,103.38 L243.85,102.32 L243.9,101.27 L243.95,100.24 L244,99.22 L244.05,98.21 L244.1,97.21 L244.15,96.23 L244.2,95.26 L244.25,94.31 L244.3,93.37 L244.35,92.44 L244.4,91.53 L244.45,90.63 L244.5,89.75 L244.55,88.88 L244.6,88.03 L244.65,87.2 L244.7,86.37 L244.75,85.57 L244.8,84.78 L244.85,84 L244.9,83.24 L244.95,83.09 L245,83.85 L245.05,84.62 L245.1,85.41 L245.15,86.21 L245.2,87.03 L245.25,87.86 L245.3,88.71 L245.35,89.58 L245.4,90.45 L245.45,91.35 L245.5,92.26 L245.55,93.18 L245.6,94.12 L245.65,95.07 L245.7,96.03 L245.75,97.01 L245.8,98.01 L245.85,99.01 L245.9,100.03 L245.95,101.06 L246,102.11 L246.05,103.17 L246.1,104.23 L246.15,105.32 L246.2,106.41 L246.25,107.51 L246.3,108.62 L246.35,109.75 L246.4,110.88 L246.45,112.02 L246.5,113.17 L246.55,114.33 L246.6,115.5 L246.65,116.68 L246.7,117.86 L246.75,119.06 L246.8,120.25 L246.85,121.46 L246.9,122.67 L246.95,123.88 L247,125.1 L247.05,126.33 L247.1,127.55 L247.15,128.79 L247.2,130.02 L247.25,131.26 L247.3,132.5 L247.35,133.74 L247.4,134.98 L247.45,136.22 L247.5,135.48 L247.55,134.23 L247.6,132.99 L247.65,131.75 L247.7,130.52 L247.75,129.28 L247.8,128.05 L247.85,126.82 L247.9,125.59 L247.95,124.37 L248,123.15 L248.05,121.94 L248.1,120.73 L248.15,119.53 L248.2,118.34 L248.25,117.15 L248.3,115.97 L248.35,114.8 L248.4,113.64 L248.45,112.48 L248.5,111.33 L248.55,110.2 L248.6,109.07 L248.65,107.95 L248.7,106.85 L248.75,105.75 L248.8,104.67 L248.85,103.59 L248.9,102.53 L248.95,101.48 L249,100.44 L249.05,99.42 L249.1,98.41 L249.15,97.41 L249.2,96.42 L249.25,95.45 L249.3,94.5 L249.35,93.55 L249.4,92.62 L249.45,91.71 L249.5,90.81 L249.55,89.93 L249.6,89.06 L249.65,88.2 L249.7,87.36 L249.75,86.54 L249.8,85.73 L249.85,84.93 L249.9,84.16 L249.95,83.39 L250,82.94 L250.05,83.7 L250.1,84.47 L250.15,85.25 L250.2,86.05 L250.25,86.86 L250.3,87.7 L250.35,88.54 L250.4,89.4 L250.45,90.28 L250.5,91.17 L250.55,92.07 L250.6,92.99 L250.65,93.93 L250.7,94.88 L250.75,95.84 L250.8,96.82 L250.85,97.81 L250.9,98.81 L250.95,99.83 L251,100.86 L251.05,101.9 L251.1,102.95 L251.15,104.02 L251.2,105.1 L251.25,106.19 L251.3,107.29 L251.35,108.4 L251.4,109.52 L251.45,110.65 L251.5,111.79 L251.55,112.94 L251.6,114.1 L251.65,115.27 L251.7,116.44 L251.75,117.63 L251.8,118.82 L251.85,120.01 L251.9,121.22 L251.95,122.42 L252,123.64 L252.05,124.86 L252.1,126.08 L252.15,127.31 L252.2,128.54 L252.25,129.77 L252.3,131.01 L252.35,132.25 L252.4,133.49 L252.45,134.73 L252.5,135.97 L252.55,135.72 L252.6,134.48 L252.65,133.24 L252.7,132 L252.75,130.76 L252.8,129.53 L252.85,128.29 L252.9,127.06 L252.95,125.84 L253,124.61 L253.05,123.4 L253.1,122.18 L253.15,120.97 L253.2,119.77 L253.25,118.58 L253.3,117.39 L253.35,116.21 L253.4,115.03 L253.45,113.87 L253.5,112.71 L253.55,111.56 L253.6,110.42 L253.65,109.3 L253.7,108.18 L253.75,107.07 L253.8,105.97 L253.85,104.88 L253.9,103.81 L253.95,102.74 L254,101.69 L254.05,100.65 L254.1,99.62 L254.15,98.61 L254.2,97.61 L254.25,96.62 L254.3,95.65 L254.35,94.69 L254.4,93.74 L254.45,92.81 L254.5,91.89 L254.55,90.99 L254.6,90.1 L254.65,89.23 L254.7,88.37 L254.75,87.53 L254.8,86.7 L254.85,85.89 L254.9,85.09 L254.95,84.31 L255,83.54 L255.05,82.79 L255.1,83.54 L255.15,84.31 L255.2,85.09 L255.25,85.89 L255.3,86.7 L255.35,87.53 L255.4,88.37 L255.45,89.23 L255.5,90.1 L255.55,90.99 L255.6,91.89 L255.65,92.81 L255.7,93.74 L255.75,94.69 L255.8,95.65 L255.85,96.62 L255.9,97.61 L255.95,98.61 L256,99.62 L256.05,100.65 L256.1,101.69 L256.15,102.74 L256.2,103.81 L256.25,104.88 L256.3,105.97 L256.35,107.07 L256.4,108.18 L256.45,109.3 L256.5,110.42 L256.55,111.56 L256.6,112.71 L256.65,113.87 L256.7,115.03 L256.75,116.21 L256.8,117.39 L256.85,118.58 L256.9,119.77 L256.95,120.97 L257,122.18 L257.05,123.4 L257.1,124.61 L257.15,125.84 L257.2,127.06 L257.25,128.29 L257.3,129.53 L257.35,130.76 L257.4,132 L257.45,133.24 L257.5,134.48 L257.55,135.72 L257.6,135.97 L257.65,134.73 L257.7,133.49 L257.75,132.25 L257.8,131.01 L257.85,129.77 L257.9,128.54 L257.95,127.31 L258,126.08 L258.05,124.86 L258.1,123.64 L258.15,122.42 L258.2,121.22 L258.25,120.01 L258.3,118.82 L258.35,117.63 L258.4,116.44 L258.45,115.27 L258.5,114.1 L258.55,112.94 L258.6,111.79 L258.65,110.65 L258.7,109.52 L258.75,108.4 L258.8,107.29 L258.85,106.19 L258.9,105.1 L258.95,104.02 L259,102.95 L259.05,101.9 L259.1,100.86 L259.15,99.83 L259.2,98.81 L259.25,97.81 L259.3,96.82 L259.35,95.84 L259.4,94.88 L259.45,93.93 L259.5,92.99 L259.55,92.07 L259.6,91.17 L259.65,90.28 L259.7,89.4 L259.75,88.54 L259.8,87.7 L259.85,86.86 L259.9,86.05 L259.95,85.25 L260,84.47 L260.05,83.7 L260.1,82.94 L260.15,83.39 L260.2,84.16 L260.25,84.93 L260.3,85.73 L260.35,86.54 L260.4,87.36 L260.45,88.2 L260.5,89.06 L260.55,89.93 L260.6,90.81 L260.65,91.71 L260.7,92.62 L260.75,93.55 L260.8,94.5 L260.85,95.45 L260.9,96.42 L260.95,97.41 L261,98.41 L261.05,99.42 L261.1,100.44 L261.15,101.48 L261.2,102.53 L261.25,103.59 L261.3,104.67 L261.35,105.75 L261.4,106.85 L261.45,107.95 L261.5,109.07 L261.55,110.2 L261.6,111.33 L261.65,112.48 L261.7,113.64 L261.75,114.8 L261.8,115.97 L261.85,117.15 L261.9,118.34 L261.95,119.53 L262,120.73 L262.05,121.94 L262.1,123.15 L262.15,124.37 L262.2,125.59 L262.25,126.82 L262.3,128.05 L262.35,129.28 L262.4,130.52 L262.45,131.75 L262.5,132.99 L262.55,134.23 L262.6,135.48 L262.65,136.22 L262.7,134.98 L262.75,133.74 L262.8,132.5 L262.85,131.26 L262.9,130.02 L262.95,128.79 L263,127.55 L263.05,126.33 L263.1,125.1 L263.15,123.88 L263.2,122.67 L263.25,121.46 L263.3,120.25 L263.35,119.06 L263.4,117.86 L263.45,116.68 L263.5,115.5 L263.55,114.33 L263.6,113.17 L263.65,112.02 L263.7,110.88 L263.75,109.75 L263.8,108.62 L263.85,107.51 L263.9,106.41 L263.95,105.32 L264,104.23 L264.05,103.17 L264.1,102.11 L264.15,101.06 L264.2,100.03 L264.25,99.01 L264.3,98.01 L264.35,97.01 L264.4,96.03 L264.45,95.07 L264.5,94.12 L264.55,93.18 L264.6,92.26 L264.65,91.35 L264.7,90.45 L264.75,89.58 L264.8,88.71 L264.85,87.86 L264.9,87.03 L264.95,86.21 L265,85.41 L265.05,84.62 L265.1,83.85 L265.15,83.09 L265.2,83.24 L265.25,84 L265.3,84.78 L265.35,85.57 L265.4,86.37 L265.45,87.2 L265.5,88.03 L265.55,88.88 L265.6,89.75 L265.65,90.63 L265.7,91.53 L265.75,92.44 L265.8,93.37 L265.85,94.31 L265.9,95.26 L265.95,96.23 L266,97.21 L266.05,98.21 L266.1,99.22 L266.15,100.24 L266.2,101.27 L266.25,102.32 L266.3,103.38 L266.35,104.45 L266.4,105.53 L266.45,106.63 L266.5,107.73 L266.55,108.85 L266.6,109.97 L266.65,111.11 L266.7,112.25 L266.75,113.4 L266.8,114.57 L266.85,115.74 L266.9,116.92 L266.95,118.1 L267,119.29 L267.05,120.49 L267.1,121.7 L267.15,122.91 L267.2,124.13 L267.25,125.35 L267.3,126.57 L267.35,127.8 L267.4,129.03 L267.45,130.27 L267.5,131.51 L267.55,132.74 L267.6,133.99 L267.65,135.23 L267.7,136.47 L267.75,135.08 L267.8,133.7 L267.85,132.32 L267.9,130.93 L267.95,129.55 L268,128.17 L268.05,126.8 L268.1,125.42 L268.15,124.05 L268.2,122.68 L268.25,121.32 L268.3,119.96 L268.35,118.61 L268.4,117.26 L268.45,115.92 L268.5,114.58 L268.55,113.25 L268.6,111.92 L268.65,110.61 L268.7,109.3 L268.75,107.99 L268.8,106.7 L268.85,105.41 L268.9,104.14 L268.95,102.87 L269,101.61 L269.05,100.36 L269.1,99.13 L269.15,97.9 L269.2,96.68 L269.25,95.47 L269.3,94.28 L269.35,93.1 L269.4,91.92 L269.45,90.77 L269.5,89.62 L269.55,88.48 L269.6,87.36 L269.65,86.25 L269.7,85.16 L269.75,84.08 L269.8,83.01 L269.85,81.96 L269.9,80.92 L269.95,79.89 L270,78.88 L270.05,77.89 L270.1,76.91 L270.15,75.94 L270.2,74.99 L270.25,74.05 L270.3,73.13 L270.35,72.23 L270.4,71.34 L270.45,70.47 L270.5,69.61 L270.55,68.77 L270.6,67.94 L270.65,67.13 L270.7,66.34 L270.75,65.56 L270.8,64.8 L270.85,65.26 L270.9,66.03 L270.95,66.81 L271,67.62 L271.05,68.44 L271.1,69.27 L271.15,70.12 L271.2,70.99 L271.25,71.87 L271.3,72.77 L271.35,73.68 L271.4,74.61 L271.45,75.56 L271.5,76.52 L271.55,77.49 L271.6,78.48 L271.65,79.49 L271.7,80.51 L271.75,81.54 L271.8,82.59 L271.85,83.65 L271.9,84.73 L271.95,85.82 L272,86.92 L272.05,88.03 L272.1,89.16 L272.15,90.3 L272.2,91.46 L272.25,92.63 L272.3,93.8 L272.35,94.99 L272.4,96.2 L272.45,97.41 L272.5,98.63 L272.55,99.87 L272.6,101.11 L272.65,102.37 L272.7,103.63 L272.75,104.9 L272.8,106.18 L272.85,107.48 L272.9,108.77 L272.95,110.08 L273,111.4 L273.05,112.72 L273.1,114.05 L273.15,115.38 L273.2,116.72 L273.25,118.07 L273.3,119.42 L273.35,120.78 L273.4,122.14 L273.45,123.5 L273.5,124.87 L273.55,126.25 L273.6,127.62 L273.65,129 L273.7,130.38 L273.75,131.76 L273.8,133.15 L273.85,134.53 L273.9,135.92 L273.95,135.64 L274,134.25 L274.05,132.87 L274.1,131.49 L274.15,130.1 L274.2,128.72 L274.25,127.35 L274.3,125.97 L274.35,124.6 L274.4,123.23 L274.45,121.87 L274.5,120.5 L274.55,119.15 L274.6,117.8 L274.65,116.45 L274.7,115.11 L274.75,113.78 L274.8,112.45 L274.85,111.13 L274.9,109.82 L274.95,108.51 L275,107.22 L275.05,105.93 L275.1,104.65 L275.15,103.38 L275.2,102.11 L275.25,100.86 L275.3,99.62 L275.35,98.39 L275.4,97.17 L275.45,95.96 L275.5,94.76 L275.55,93.57 L275.6,92.39 L275.65,91.23 L275.7,90.08 L275.75,88.94 L275.8,87.81 L275.85,86.7 L275.9,85.6 L275.95,84.51 L276,83.44 L276.05,82.38 L276.1,81.33 L276.15,80.3 L276.2,79.29 L276.25,78.28 L276.3,77.3 L276.35,76.33 L276.4,75.37 L276.45,74.43 L276.5,73.5 L276.55,72.59 L276.6,71.7 L276.65,70.82 L276.7,69.95 L276.75,69.1 L276.8,68.27 L276.85,67.46 L276.9,66.66 L276.95,65.87 L277,65.1 L277.05,64.95 L277.1,65.72 L277.15,66.5 L277.2,67.29 L277.25,68.11 L277.3,68.94 L277.35,69.78 L277.4,70.64 L277.45,71.52 L277.5,72.41 L277.55,73.32 L277.6,74.24 L277.65,75.18 L277.7,76.13 L277.75,77.1 L277.8,78.09 L277.85,79.08 L277.9,80.1 L277.95,81.13 L278,82.17 L278.05,83.22 L278.1,84.29 L278.15,85.38 L278.2,86.48 L278.25,87.59 L278.3,88.71 L278.35,89.85 L278.4,91 L278.45,92.16 L278.5,93.33 L278.55,94.52 L278.6,95.71 L278.65,96.92 L278.7,98.14 L278.75,99.37 L278.8,100.61 L278.85,101.86 L278.9,103.12 L278.95,104.39 L279,105.67 L279.05,106.96 L279.1,108.25 L279.15,109.56 L279.2,110.87 L279.25,112.19 L279.3,113.51 L279.35,114.85 L279.4,116.18 L279.45,117.53 L279.5,118.88 L279.55,120.23 L279.6,121.59 L279.65,122.96 L279.7,124.32 L279.75,125.7 L279.8,127.07 L279.85,128.45 L279.9,129.83 L279.95,131.21 L280,132.59 L280.05,133.98 L280.1,135.36 L280.15,136.19 L280.2,134.81 L280.25,133.42 L280.3,132.04 L280.35,130.66 L280.4,129.28 L280.45,127.9 L280.5,126.52 L280.55,125.15 L280.6,123.78 L280.65,122.41 L280.7,121.05 L280.75,119.69 L280.8,118.34 L280.85,116.99 L280.9,115.65 L280.95,114.31 L281,112.98 L281.05,111.66 L281.1,110.34 L281.15,109.04 L281.2,107.73 L281.25,106.44 L281.3,105.16 L281.35,103.88 L281.4,102.62 L281.45,101.36 L281.5,100.11 L281.55,98.88 L281.6,97.65 L281.65,96.44 L281.7,95.23 L281.75,94.04 L281.8,92.86 L281.85,91.69 L281.9,90.53 L281.95,89.39 L282,88.26 L282.05,87.14 L282.1,86.03 L282.15,84.94 L282.2,83.86 L282.25,82.8 L282.3,81.75 L282.35,80.71 L282.4,79.69 L282.45,78.68 L282.5,77.69 L282.55,76.71 L282.6,75.75 L282.65,74.8 L282.7,73.87 L282.75,72.95 L282.8,72.05 L282.85,71.17 L282.9,70.3 L282.95,69.44 L283,68.6 L283.05,67.78 L283.1,66.97 L283.15,66.18 L283.2,65.41 L283.25,64.65 L283.3,65.41 L283.35,66.18 L283.4,66.97 L283.45,67.78 L283.5,68.6 L283.55,69.44 L283.6,70.3 L283.65,71.17 L283.7,72.05 L283.75,72.95 L283.8,73.87 L283.85,74.8 L283.9,75.75 L283.95,76.71 L284,77.69 L284.05,78.68 L284.1,79.69 L284.15,80.71 L284.2,81.75 L284.25,82.8 L284.3,83.86 L284.35,84.94 L284.4,86.03 L284.45,87.14 L284.5,88.26 L284.55,89.39 L284.6,90.53 L284.65,91.69 L284.7,92.86 L284.75,94.04 L284.8,95.23 L284.85,96.44 L284.9,97.65 L284.95,98.88 L285,100.11 L285.05,101.36 L285.1,102.62 L285.15,103.88 L285.2,105.16 L285.25,106.44 L285.3,107.73 L285.35,109.04 L285.4,110.34 L285.45,111.66 L285.5,112.98 L285.55,114.31 L285.6,115.65 L285.65,116.99 L285.7,118.34 L285.75,119.69 L285.8,121.05 L285.85,122.41 L285.9,123.78 L285.95,125.15 L286,126.52 L286.05,127.9 L286.1,129.28 L286.15,130.66 L286.2,132.04 L286.25,133.42 L286.3,134.81 L286.35,136.19 L286.4,135.36 L286.45,133.98 L286.5,132.59 L286.55,131.21 L286.6,129.83 L286.65,128.45 L286.7,127.07 L286.75,125.7 L286.8,124.32 L286.85,122.96 L286.9,121.59 L286.95,120.23 L287,118.88 L287.05,117.53 L287.1,116.18 L287.15,114.85 L287.2,113.51 L287.25,112.19 L287.3,110.87 L287.35,109.56 L287.4,108.25 L287.45,106.96 L287.5,105.67 L287.55,104.39 L287.6,103.12 L287.65,101.86 L287.7,100.61 L287.75,99.37 L287.8,98.14 L287.85,96.92 L287.9,95.71 L287.95,94.52 L288,93.33 L288.05,92.16 L288.1,91 L288.15,89.85 L288.2,88.71 L288.25,87.59 L288.3,86.48 L288.35,85.38 L288.4,84.29 L288.45,83.22 L288.5,82.17 L288.55,81.13 L288.6,80.1 L288.65,79.08 L288.7,78.09 L288.75,77.1 L288.8,76.13 L288.85,75.18 L288.9,74.24 L288.95,73.32 L289,72.41 L289.05,71.52 L289.1,70.64 L289.15,69.78 L289.2,68.94 L289.25,68.11 L289.3,67.29 L289.35,66.5 L289.4,65.72 L289.45,64.95 L289.5,65.1 L289.55,65.87 L289.6,66.66 L289.65,67.46 L289.7,68.27 L289.75,69.1 L289.8,69.95 L289.85,70.82 L289.9,71.7 L289.95,72.59 L290,73.5 L290.05,74.43 L290.1,75.37 L290.15,76.33 L290.2,77.3 L290.25,78.28 L290.3,79.29 L290.35,80.3 L290.4,81.33 L290.45,82.38 L290.5,83.44 L290.55,84.51 L290.6,85.6 L290.65,86.7 L290.7,87.81 L290.75,88.94 L290.8,90.08 L290.85,91.23 L290.9,92.39 L290.95,93.57 L291,94.76 L291.05,95.96 L291.1,97.17 L291.15,98.39 L291.2,99.62 L291.25,100.86 L291.3,102.11 L291.35,103.38 L291.4,104.65 L291.45,105.93 L291.5,107.22 L291.55,108.51 L291.6,109.82 L291.65,111.13 L291.7,112.45 L291.75,113.78 L291.8,115.11 L291.85,116.45 L291.9,117.8 L291.95,119.15 L292,120.5 L292.05,121.87 L292.1,123.23 L292.15,124.6 L292.2,125.97 L292.25,127.35 L292.3,128.72 L292.35,130.1 L292.4,131.49 L292.45,132.87 L292.5,134.25 L292.55,135.64 L292.6,135.92 L292.65,134.53 L292.7,133.15 L292.75,131.76 L292.8,130.38 L292.85,129 L292.9,127.62 L292.95,126.25 L293,124.87 L293.05,123.5 L293.1,122.14 L293.15,120.78 L293.2,119.42 L293.25,118.07 L293.3,116.72 L293.35,115.38 L293.4,114.05 L293.45,112.72 L293.5,111.4 L293.55,110.08 L293.6,108.77 L293.65,107.48 L293.7,106.18 L293.75,104.9 L293.8,103.63 L293.85,102.37 L293.9,101.11 L293.95,99.87 L294,98.63 L294.05,97.41 L294.1,96.2 L294.15,94.99 L294.2,93.8 L294.25,92.63 L294.3,91.46 L294.35,90.3 L294.4,89.16 L294.45,88.03 L294.5,86.92 L294.55,85.82 L294.6,84.73 L294.65,83.65 L294.7,82.59 L294.75,81.54 L294.8,80.51 L294.85,79.49 L294.9,78.48 L294.95,77.49 L295,76.52 L295.05,75.56 L295.1,74.61 L295.15,73.68 L295.2,72.77 L295.25,71.87 L295.3,70.99 L295.35,70.12 L295.4,69.27 L295.45,68.44 L295.5,67.62 L295.55,66.81 L295.6,66.03 L295.65,65.26 L295.7,64.8 L295.75,65.56 L295.8,66.34 L295.85,67.13 L295.9,67.94 L295.95,68.77 L296,69.61 L296.05,70.47 L296.1,71.34 L296.15,72.23 L296.2,73.13 L296.25,74.05 L296.3,74.99 L296.35,75.94 L296.4,76.91 L296.45,77.89 L296.5,78.88 L296.55,79.89 L296.6,80.92 L296.65,81.96 L296.7,83.01 L296.75,84.08 L296.8,85.16 L296.85,86.25 L296.9,87.36 L296.95,88.48 L297,89.62 L297.05,90.77 L297.1,91.92 L297.15,93.1 L297.2,94.28 L297.25,95.47 L297.3,96.68 L297.35,97.9 L297.4,99.13 L297.45,100.36 L297.5,101.61 L297.55,102.87 L297.6,104.14 L297.65,105.41 L297.7,106.7 L297.75,107.99 L297.8,109.3 L297.85,110.61 L297.9,111.92 L297.95,113.25 L298,114.58 L298.05,115.92 L298.1,117.26 L298.15,118.61 L298.2,119.96 L298.25,121.32 L298.3,122.68 L298.35,124.05 L298.4,125.42 L298.45,126.8 L298.5,128.17 L298.55,129.55 L298.6,130.93 L298.65,132.32 L298.7,133.7 L298.75,135.08 L298.8,136.47 L298.85,135.16 L298.9,133.85 L298.95,132.55 L299,131.24 L299.05,129.93 L299.1,128.63 L299.15,127.32 L299.2,126.02 L299.25,124.72 L299.3,123.42 L299.35,122.12 L299.4,120.83 L299.45,119.53 L299.5,118.24 L299.55,116.96 L299.6,115.67 L299.65,114.39 L299.7,113.12 L299.75,111.84 L299.8,110.58 L299.85,109.31 L299.9,108.05 L299.95,106.79 L300,105.54 L300.05,104.3 L300.1,103.05 L300.15,101.82 L300.2,100.59 L300.25,99.36 L300.3,98.14 L300.35,96.93 L300.4,95.73 L300.45,94.53 L300.5,93.33 L300.55,92.15 L300.6,90.97 L300.65,89.79 L300.7,88.63 L300.75,87.47 L300.8,86.32 L300.85,85.18 L300.9,84.05 L300.95,82.92 L301,81.81 L301.05,80.7 L301.1,79.6 L301.15,78.51 L301.2,77.43 L301.25,76.36 L301.3,75.3 L301.35,74.25 L301.4,73.21 L301.45,72.18 L301.5,71.16 L301.55,70.14 L301.6,69.14 L301.65,68.16 L301.7,67.18 L301.75,66.21 L301.8,65.25 L301.85,64.31 L301.9,63.37 L301.95,62.45 L302,61.54 L302.05,60.64 L302.1,59.76 L302.15,58.88 L302.2,58.02 L302.25,57.17 L302.3,56.34 L302.35,55.51 L302.4,54.7 L302.45,53.91 L302.5,53.12 L302.55,52.35 L302.6,51.59 L302.65,50.85 L302.7,50.12 L302.75,49.4 L302.8,48.7 L302.85,48.01 L302.9,47.34 L302.95,46.68 L303,46.03 L303.05,45.4 L303.1,44.78 L303.15,44.18 L303.2,43.59 L303.25,43.02 L303.3,42.46 L303.35,41.92 L303.4,41.39 L303.45,40.87 L303.5,40.38 L303.55,39.89 L303.6,39.43 L303.65,38.98 L303.7,38.54 L303.75,38.12 L303.8,37.71 L303.85,37.33 L303.9,36.95 L303.95,36.6 L304,36.25 L304.05,35.93 L304.1,35.62 L304.15,35.33 L304.2,35.05 L304.25,34.79 L304.3,34.54 L304.35,34.31 L304.4,34.1 L304.45,33.91 L304.5,33.73 L304.55,33.56 L304.6,33.42 L304.65,33.29 L304.7,33.17 L304.75,33.08 L304.8,32.99 L304.85,32.93 L304.9,32.88 L304.95,32.85 L305,32.84 L305.05,32.84 L305.1,32.86 L305.15,32.89 L305.2,32.94 L305.25,33.01 L305.3,33.09 L305.35,33.19 L305.4,33.31 L305.45,33.45 L305.5,33.6 L305.55,33.76 L305.6,33.94 L305.65,34.14 L305.7,34.36 L305.75,34.59 L305.8,34.84 L305.85,35.1 L305.9,35.38 L305.95,35.68 L306,35.99 L306.05,36.32 L306.1,36.67 L306.15,37.03 L306.2,37.4 L306.25,37.79 L306.3,38.2 L306.35,38.63 L306.4,39.07 L306.45,39.52 L306.5,39.99 L306.55,40.48 L306.6,40.98 L306.65,41.49 L306.7,42.02 L306.75,42.57 L306.8,43.13 L306.85,43.71 L306.9,44.3 L306.95,44.9 L307,45.52 L307.05,46.16 L307.1,46.81 L307.15,47.47 L307.2,48.15 L307.25,48.84 L307.3,49.54 L307.35,50.26 L307.4,51 L307.45,51.74 L307.5,52.5 L307.55,53.28 L307.6,54.07 L307.65,54.87 L307.7,55.68 L307.75,56.5 L307.8,57.34 L307.85,58.19 L307.9,59.06 L307.95,59.93 L308,60.82 L308.05,61.72 L308.1,62.64 L308.15,63.56 L308.2,64.5 L308.25,65.44 L308.3,66.4 L308.35,67.37 L308.4,68.35 L308.45,69.34 L308.5,70.35 L308.55,71.36 L308.6,72.38 L308.65,73.42 L308.7,74.46 L308.75,75.51 L308.8,76.58 L308.85,77.65 L308.9,78.73 L308.95,79.82 L309,80.92 L309.05,82.03 L309.1,83.15 L309.15,84.28 L309.2,85.41 L309.25,86.55 L309.3,87.7 L309.35,88.86 L309.4,90.03 L309.45,91.2 L309.5,92.38 L309.55,93.57 L309.6,94.76 L309.65,95.97 L309.7,97.17 L309.75,98.39 L309.8,99.61 L309.85,100.83 L309.9,102.07 L309.95,103.3 L310,104.54 L310.05,105.79 L310.1,107.04 L310.15,108.3 L310.2,109.56 L310.25,110.83 L310.3,112.1 L310.35,113.37 L310.4,114.65 L310.45,115.93 L310.5,117.22 L310.55,118.5 L310.6,119.79 L310.65,121.09 L310.7,122.38 L310.75,123.68 L310.8,124.98 L310.85,126.28 L310.9,127.58 L310.95,128.89 L311,130.19 L311.05,131.5 L311.1,132.81 L311.15,134.11 L311.2,135.42 L311.25,136.21 L311.3,134.9 L311.35,133.59 L311.4,132.28 L311.45,130.98 L311.5,129.67 L311.55,128.36 L311.6,127.06 L311.65,125.76 L311.7,124.46 L311.75,123.16 L311.8,121.86 L311.85,120.57 L311.9,119.28 L311.95,117.99 L312,116.7 L312.05,115.42 L312.1,114.14 L312.15,112.86 L312.2,111.59 L312.25,110.32 L312.3,109.06 L312.35,107.8 L312.4,106.54 L312.45,105.29 L312.5,104.05 L312.55,102.81 L312.6,101.57 L312.65,100.34 L312.7,99.12 L312.75,97.9 L312.8,96.69 L312.85,95.48 L312.9,94.29 L312.95,93.09 L313,91.91 L313.05,90.73 L313.1,89.56 L313.15,88.4 L313.2,87.24 L313.25,86.09 L313.3,84.96 L313.35,83.82 L313.4,82.7 L313.45,81.59 L313.5,80.48 L313.55,79.38 L313.6,78.3 L313.65,77.22 L313.7,76.15 L313.75,75.09 L313.8,74.04 L313.85,73 L313.9,71.97 L313.95,70.95 L314,69.94 L314.05,68.95 L314.1,67.96 L314.15,66.98 L314.2,66.02 L314.25,65.06 L314.3,64.12 L314.35,63.19 L314.4,62.27 L314.45,61.36 L314.5,60.47 L314.55,59.58 L314.6,58.71 L314.65,57.85 L314.7,57.01 L314.75,56.17 L314.8,55.35 L314.85,54.54 L314.9,53.75 L314.95,52.97 L315,52.2 L315.05,51.44 L315.1,50.7 L315.15,49.97 L315.2,49.26 L315.25,48.56 L315.3,47.87 L315.35,47.2 L315.4,46.55 L315.45,45.9 L315.5,45.27 L315.55,44.66 L315.6,44.06 L315.65,43.47 L315.7,42.9 L315.75,42.35 L315.8,41.81 L315.85,41.28 L315.9,40.77 L315.95,40.28 L316,39.8 L316.05,39.34 L316.1,38.89 L316.15,38.45 L316.2,38.04 L316.25,37.64 L316.3,37.25 L316.35,36.88 L316.4,36.53 L316.45,36.19 L316.5,35.87 L316.55,35.56 L316.6,35.27 L316.65,35 L316.7,34.74 L316.75,34.5 L316.8,34.27 L316.85,34.06 L316.9,33.87 L316.95,33.69 L317,33.53 L317.05,33.39 L317.1,33.26 L317.15,33.15 L317.2,33.06 L317.25,32.98 L317.3,32.92 L317.35,32.87 L317.4,32.85 L317.45,32.84 L317.5,32.84 L317.55,32.86 L317.6,32.9 L317.65,32.95 L317.7,33.03 L317.75,33.11 L317.8,33.22 L317.85,33.34 L317.9,33.47 L317.95,33.63 L318,33.8 L318.05,33.98 L318.1,34.19 L318.15,34.4 L318.2,34.64 L318.25,34.89 L318.3,35.16 L318.35,35.44 L318.4,35.74 L318.45,36.06 L318.5,36.39 L318.55,36.74 L318.6,37.1 L318.65,37.48 L318.7,37.87 L318.75,38.29 L318.8,38.71 L318.85,39.15 L318.9,39.61 L318.95,40.09 L319,40.57 L319.05,41.08 L319.1,41.6 L319.15,42.13 L319.2,42.68 L319.25,43.24 L319.3,43.82 L319.35,44.42 L319.4,45.03 L319.45,45.65 L319.5,46.29 L319.55,46.94 L319.6,47.6 L319.65,48.28 L319.7,48.98 L319.75,49.69 L319.8,50.41 L319.85,51.15 L319.9,51.9 L319.95,52.66 L320,53.43 L320.05,54.22 L320.1,55.03 L320.15,55.84 L320.2,56.67 L320.25,57.51 L320.3,58.37 L320.35,59.23 L320.4,60.11 L320.45,61 L320.5,61.91 L320.55,62.82 L320.6,63.75 L320.65,64.68 L320.7,65.63 L320.75,66.59 L320.8,67.57 L320.85,68.55 L320.9,69.54 L320.95,70.55 L321,71.56 L321.05,72.59 L321.1,73.62 L321.15,74.67 L321.2,75.72 L321.25,76.79 L321.3,77.86 L321.35,78.95 L321.4,80.04 L321.45,81.14 L321.5,82.25 L321.55,83.37 L321.6,84.5 L321.65,85.64 L321.7,86.78 L321.75,87.93 L321.8,89.09 L321.85,90.26 L321.9,91.44 L321.95,92.62 L322,93.81 L322.05,95 L322.1,96.21 L322.15,97.42 L322.2,98.63 L322.25,99.85 L322.3,101.08 L322.35,102.31 L322.4,103.55 L322.45,104.79 L322.5,106.04 L322.55,107.3 L322.6,108.55 L322.65,109.82 L322.7,111.08 L322.75,112.35 L322.8,113.63 L322.85,114.91 L322.9,116.19 L322.95,117.47 L323,118.76 L323.05,120.05 L323.1,121.34 L323.15,122.64 L323.2,123.94 L323.25,125.24 L323.3,126.54 L323.35,127.84 L323.4,129.15 L323.45,130.45 L323.5,131.76 L323.55,133.07 L323.6,134.38 L323.65,135.68 L323.7,135.95 L323.75,134.64 L323.8,133.33 L323.85,132.02 L323.9,130.72 L323.95,129.41 L324,128.1 L324.05,126.8 L324.1,125.5 L324.15,124.2 L324.2,122.9 L324.25,121.6 L324.3,120.31 L324.35,119.02 L324.4,117.73 L324.45,116.44 L324.5,115.16 L324.55,113.88 L324.6,112.61 L324.65,111.34 L324.7,110.07 L324.75,108.81 L324.8,107.55 L324.85,106.29 L324.9,105.04 L324.95,103.8 L325,102.56 L325.05,101.33 L325.1,100.1 L325.15,98.87 L325.2,97.66 L325.25,96.45 L325.3,95.24 L325.35,94.05 L325.4,92.86 L325.45,91.67 L325.5,90.5 L325.55,89.33 L325.6,88.17 L325.65,87.01 L325.7,85.87 L325.75,84.73 L325.8,83.6 L325.85,82.48 L325.9,81.36 L325.95,80.26 L326,79.17 L326.05,78.08 L326.1,77 L326.15,75.94 L326.2,74.88 L326.25,73.83 L326.3,72.79 L326.35,71.77 L326.4,70.75 L326.45,69.74 L326.5,68.75 L326.55,67.76 L326.6,66.79 L326.65,65.83 L326.7,64.87 L326.75,63.93 L326.8,63 L326.85,62.09 L326.9,61.18 L326.95,60.29 L327,59.41 L327.05,58.54 L327.1,57.68 L327.15,56.84 L327.2,56.01 L327.25,55.19 L327.3,54.38 L327.35,53.59 L327.4,52.81 L327.45,52.05 L327.5,51.29 L327.55,50.56 L327.6,49.83 L327.65,49.12 L327.7,48.42 L327.75,47.74 L327.8,47.07 L327.85,46.42 L327.9,45.78 L327.95,45.15 L328,44.54 L328.05,43.94 L328.1,43.36 L328.15,42.79 L328.2,42.24 L328.25,41.7 L328.3,41.18 L328.35,40.67 L328.4,40.18 L328.45,39.71 L328.5,39.25 L328.55,38.8 L328.6,38.37 L328.65,37.96 L328.7,37.56 L328.75,37.17 L328.8,36.81 L328.85,36.46 L328.9,36.12 L328.95,35.8 L329,35.5 L329.05,35.21 L329.1,34.94 L329.15,34.69 L329.2,34.45 L329.25,34.23 L329.3,34.02 L329.35,33.83 L329.4,33.66 L329.45,33.5 L329.5,33.36 L329.55,33.24 L329.6,33.13 L329.65,33.04 L329.7,32.97 L329.75,32.91 L329.8,32.87 L329.85,32.84 L329.9,32.83 L329.95,32.84 L330,32.87 L330.05,32.91 L330.1,32.97 L330.15,33.04 L330.2,33.13 L330.25,33.24 L330.3,33.36 L330.35,33.5 L330.4,33.66 L330.45,33.83 L330.5,34.02 L330.55,34.23 L330.6,34.45 L330.65,34.69 L330.7,34.94 L330.75,35.21 L330.8,35.5 L330.85,35.8 L330.9,36.12 L330.95,36.46 L331,36.81 L331.05,37.17 L331.1,37.56 L331.15,37.96 L331.2,38.37 L331.25,38.8 L331.3,39.25 L331.35,39.71 L331.4,40.18 L331.45,40.67 L331.5,41.18 L331.55,41.7 L331.6,42.24 L331.65,42.79 L331.7,43.36 L331.75,43.94 L331.8,44.54 L331.85,45.15 L331.9,45.78 L331.95,46.42 L332,47.07 L332.05,47.74 L332.1,48.42 L332.15,49.12 L332.2,49.83 L332.25,50.56 L332.3,51.29 L332.35,52.05 L332.4,52.81 L332.45,53.59 L332.5,54.38 L332.55,55.19 L332.6,56.01 L332.65,56.84 L332.7,57.68 L332.75,58.54 L332.8,59.41 L332.85,60.29 L332.9,61.18 L332.95,62.09 L333,63 L333.05,63.93 L333.1,64.87 L333.15,65.83 L333.2,66.79 L333.25,67.76 L333.3,68.75 L333.35,69.74 L333.4,70.75 L333.45,71.77 L333.5,72.79 L333.55,73.83 L333.6,74.88 L333.65,75.94 L333.7,77 L333.75,78.08 L333.8,79.17 L333.85,80.26 L333.9,81.36 L333.95,82.48 L334,83.6 L334.05,84.73 L334.1,85.87 L334.15,87.01 L334.2,88.17 L334.25,89.33 L334.3,90.5 L334.35,91.67 L334.4,92.86 L334.45,94.05 L334.5,95.24 L334.55,96.45 L334.6,97.66 L334.65,98.87 L334.7,100.1 L334.75,101.33 L334.8,102.56 L334.85,103.8 L334.9,105.04 L334.95,106.29 L335,107.55 L335.05,108.81 L335.1,110.07 L335.15,111.34 L335.2,112.61 L335.25,113.88 L335.3,115.16 L335.35,116.44 L335.4,117.73 L335.45,119.02 L335.5,120.31 L335.55,121.6 L335.6,122.9 L335.65,124.2 L335.7,125.5 L335.75,126.8 L335.8,128.1 L335.85,129.41 L335.9,130.72 L335.95,132.02 L336,133.33 L336.05,134.64 L336.1,135.95 L336.15,135.68 L336.2,134.38 L336.25,133.07 L336.3,131.76 L336.35,130.45 L336.4,129.15 L336.45,127.84 L336.5,126.54 L336.55,125.24 L336.6,123.94 L336.65,122.64 L336.7,121.34 L336.75,120.05 L336.8,118.76 L336.85,117.47 L336.9,116.19 L336.95,114.91 L337,113.63 L337.05,112.35 L337.1,111.08 L337.15,109.82 L337.2,108.55 L337.25,107.3 L337.3,106.04 L337.35,104.79 L337.4,103.55 L337.45,102.31 L337.5,101.08 L337.55,99.85 L337.6,98.63 L337.65,97.42 L337.7,96.21 L337.75,95 L337.8,93.81 L337.85,92.62 L337.9,91.44 L337.95,90.26 L338,89.09 L338.05,87.93 L338.1,86.78 L338.15,85.64 L338.2,84.5 L338.25,83.37 L338.3,82.25 L338.35,81.14 L338.4,80.04 L338.45,78.95 L338.5,77.86 L338.55,76.79 L338.6,75.72 L338.65,74.67 L338.7,73.62 L338.75,72.59 L338.8,71.56 L338.85,70.55 L338.9,69.54 L338.95,68.55 L339,67.57 L339.05,66.59 L339.1,65.63 L339.15,64.68 L339.2,63.75 L339.25,62.82 L339.3,61.91 L339.35,61 L339.4,60.11 L339.45,59.23 L339.5,58.37 L339.55,57.51 L339.6,56.67 L339.65,55.84 L339.7,55.03 L339.75,54.22 L339.8,53.43 L339.85,52.66 L339.9,51.9 L339.95,51.15 L340,50.41 L340.05,49.69 L340.1,48.98 L340.15,48.28 L340.2,47.6 L340.25,46.94 L340.3,46.29 L340.35,45.65 L340.4,45.03 L340.45,44.42 L340.5,43.82 L340.55,43.24 L340.6,42.68 L340.65,42.13 L340.7,41.6 L340.75,41.08 L340.8,40.57 L340.85,40.09 L340.9,39.61 L340.95,39.15 L341,38.71 L341.05,38.29 L341.1,37.87 L341.15,37.48 L341.2,37.1 L341.25,36.74 L341.3,36.39 L341.35,36.06 L341.4,35.74 L341.45,35.44 L341.5,35.16 L341.55,34.89 L341.6,34.64 L341.65,34.4 L341.7,34.19 L341.75,33.98 L341.8,33.8 L341.85,33.63 L341.9,33.47 L341.95,33.34 L342,33.22 L342.05,33.11 L342.1,33.03 L342.15,32.95 L342.2,32.9 L342.25,32.86 L342.3,32.84 L342.35,32.84 L342.4,32.85 L342.45,32.87 L342.5,32.92 L342.55,32.98 L342.6,33.06 L342.65,33.15 L342.7,33.26 L342.75,33.39 L342.8,33.53 L342.85,33.69 L342.9,33.87 L342.95,34.06 L343,34.27 L343.05,34.5 L343.1,34.74 L343.15,35 L343.2,35.27 L343.25,35.56 L343.3,35.87 L343.35,36.19 L343.4,36.53 L343.45,36.88 L343.5,37.25 L343.55,37.64 L343.6,38.04 L343.65,38.45 L343.7,38.89 L343.75,39.34 L343.8,39.8 L343.85,40.28 L343.9,40.77 L343.95,41.28 L344,41.81 L344.05,42.35 L344.1,42.9 L344.15,43.47 L344.2,44.06 L344.25,44.66 L344.3,45.27 L344.35,45.9 L344.4,46.55 L344.45,47.2 L344.5,47.87 L344.55,48.56 L344.6,49.26 L344.65,49.97 L344.7,50.7 L344.75,51.44 L344.8,52.2 L344.85,52.97 L344.9,53.75 L344.95,54.54 L345,55.35 L345.05,56.17 L345.1,57.01 L345.15,57.85 L345.2,58.71 L345.25,59.58 L345.3,60.47 L345.35,61.36 L345.4,62.27 L345.45,63.19 L345.5,64.12 L345.55,65.06 L345.6,66.02 L345.65,66.98 L345.7,67.96 L345.75,68.95 L345.8,69.94 L345.85,70.95 L345.9,71.97 L345.95,73 L346,74.04 L346.05,75.09 L346.1,76.15 L346.15,77.22 L346.2,78.3 L346.25,79.38 L346.3,80.48 L346.35,81.59 L346.4,82.7 L346.45,83.82 L346.5,84.96 L346.55,86.09 L346.6,87.24 L346.65,88.4 L346.7,89.56 L346.75,90.73 L346.8,91.91 L346.85,93.09 L346.9,94.29 L346.95,95.48 L347,96.69 L347.05,97.9 L347.1,99.12 L347.15,100.34 L347.2,101.57 L347.25,102.81 L347.3,104.05 L347.35,105.29 L347.4,106.54 L347.45,107.8 L347.5,109.06 L347.55,110.32 L347.6,111.59 L347.65,112.86 L347.7,114.14 L347.75,115.42 L347.8,116.7 L347.85,117.99 L347.9,119.28 L347.95,120.57 L348,121.86 L348.05,123.16 L348.1,124.46 L348.15,125.76 L348.2,127.06 L348.25,128.36 L348.3,129.67 L348.35,130.98 L348.4,132.28 L348.45,133.59 L348.5,134.9 L348.55,136.21 L348.6,135.42 L348.65,134.11 L348.7,132.81 L348.75,131.5 L348.8,130.19 L348.85,128.89 L348.9,127.58 L348.95,126.28 L349,124.98 L349.05,123.68 L349.1,122.38 L349.15,121.09 L349.2,119.79 L349.25,118.5 L349.3,117.22 L349.35,115.93 L349.4,114.65 L349.45,113.37 L349.5,112.1 L349.55,110.83 L349.6,109.56 L349.65,108.3 L349.7,107.04 L349.75,105.79 L349.8,104.54 L349.85,103.3 L349.9,102.07 L349.95,100.83 L350,99.61 L350.05,98.39 L350.1,97.17 L350.15,95.97 L350.2,94.76 L350.25,93.57 L350.3,92.38 L350.35,91.2 L350.4,90.03 L350.45,88.86 L350.5,87.7 L350.55,86.55 L350.6,85.41 L350.65,84.28 L350.7,83.15 L350.75,82.03 L350.8,80.92 L350.85,79.82 L350.9,78.73 L350.95,77.65 L351,76.58 L351.05,75.51 L351.1,74.46 L351.15,73.42 L351.2,72.38 L351.25,71.36 L351.3,70.35 L351.35,69.34 L351.4,68.35 L351.45,67.37 L351.5,66.4 L351.55,65.44 L351.6,64.5 L351.65,63.56 L351.7,62.64 L351.75,61.72 L351.8,60.82 L351.85,59.93 L351.9,59.06 L351.95,58.19 L352,57.34 L352.05,56.5 L352.1,55.68 L352.15,54.87 L352.2,54.07 L352.25,53.28 L352.3,52.5 L352.35,51.74 L352.4,51 L352.45,50.26 L352.5,49.54 L352.55,48.84 L352.6,48.15 L352.65,47.47 L352.7,46.81 L352.75,46.16 L352.8,45.52 L352.85,44.9 L352.9,44.3 L352.95,43.71 L353,43.13 L353.05,42.57 L353.1,42.02 L353.15,41.49 L353.2,40.98 L353.25,40.48 L353.3,39.99 L353.35,39.52 L353.4,39.07 L353.45,38.63 L353.5,38.2 L353.55,37.79 L353.6,37.4 L353.65,37.03 L353.7,36.67 L353.75,36.32 L353.8,35.99 L353.85,35.68 L353.9,35.38 L353.95,35.1 L354,34.84 L354.05,34.59 L354.1,34.36 L354.15,34.14 L354.2,33.94 L354.25,33.76 L354.3,33.6 L354.35,33.45 L354.4,33.31 L354.45,33.19 L354.5,33.09 L354.55,33.01 L354.6,32.94 L354.65,32.89 L354.7,32.86 L354.75,32.84 L354.8,32.84 L354.85,32.85 L354.9,32.88 L354.95,32.93 L355,32.99 L355.05,33.08 L355.1,33.17 L355.15,33.29 L355.2,33.42 L355.25,33.56 L355.3,33.73 L355.35,33.91 L355.4,34.1 L355.45,34.31 L355.5,34.54 L355.55,34.79 L355.6,35.05 L355.65,35.33 L355.7,35.62 L355.75,35.93 L355.8,36.25 L355.85,36.6 L355.9,36.95 L355.95,37.33 L356,37.71 L356.05,38.12 L356.1,38.54 L356.15,38.98 L356.2,39.43 L356.25,39.89 L356.3,40.38 L356.35,40.87 L356.4,41.39 L356.45,41.92 L356.5,42.46 L356.55,43.02 L356.6,43.59 L356.65,44.18 L356.7,44.78 L356.75,45.4 L356.8,46.03 L356.85,46.68 L356.9,47.34 L356.95,48.01 L357,48.7 L357.05,49.4 L357.1,50.12 L357.15,50.85 L357.2,51.59 L357.25,52.35 L357.3,53.12 L357.35,53.91 L357.4,54.7 L357.45,55.51 L357.5,56.34 L357.55,57.17 L357.6,58.02 L357.65,58.88 L357.7,59.76 L357.75,60.64 L357.8,61.54 L357.85,62.45 L357.9,63.37 L357.95,64.31 L358,65.25 L358.05,66.21 L358.1,67.18 L358.15,68.16 L358.2,69.14 L358.25,70.14 L358.3,71.16 L358.35,72.18 L358.4,73.21 L358.45,74.25 L358.5,75.3 L358.55,76.36 L358.6,77.43 L358.65,78.51 L358.7,79.6 L358.75,80.7 L358.8,81.81 L358.85,82.92 L358.9,84.05 L358.95,85.18 L359,86.32 L359.05,87.47 L359.1,88.63 L359.15,89.79 L359.2,90.97 L359.25,92.15 L359.3,93.33 L359.35,94.53 L359.4,95.73 L359.45,96.93 L359.5,98.14 L359.55,99.36 L359.6,100.59 L359.65,101.82 L359.7,103.05 L359.75,104.3 L359.8,105.54 L359.85,106.79 L359.9,108.05 L359.95,109.31 L360,110.58 L360.05,111.84 L360.1,113.12 L360.15,114.39 L360.2,115.67 L360.25,116.96 L360.3,118.24 L360.35,119.53 L360.4,120.83 L360.45,122.12 L360.5,123.42 L360.55,124.72 L360.6,126.02 L360.65,127.32 L360.7,128.63 L360.75,129.93 L360.8,131.24 L360.85,132.55 L360.9,133.85 L360.95,135.16" stroke="#1570bf" stroke-width="1.75" fill="none" stroke-linejoin="round"/>
<rect x="210" y="11.5" width="151" height="125.8" fill="none" stroke="#444" stroke-width="1.2"/>
<text x="206.3" y="138.9" font-size="5.1" text-anchor="end" font-weight="bold" fill="#111" stroke="#111" stroke-width="0.26">0</text>
<text x="206.3" y="107.4" font-size="5.1" text-anchor="end" font-weight="bold" fill="#111" stroke="#111" stroke-width="0.26">5</text>
<text x="206.3" y="75.9" font-size="5.1" text-anchor="end" font-weight="bold" fill="#111" stroke="#111" stroke-width="0.26">10</text>
<text x="206.3" y="44.4" font-size="5.1" text-anchor="end" font-weight="bold" fill="#111" stroke="#111" stroke-width="0.26">15</text>
<text x="206.3" y="12.9" font-size="5.1" text-anchor="end" font-weight="bold" fill="#111" stroke="#111" stroke-width="0.26">20</text>
<path d="M210,137.1h-2.2M210,121.35h-1.3M210,105.6h-2.2M210,89.85h-1.3M210,74.1h-2.2M210,58.35h-1.3M210,42.6h-2.2M210,26.85h-1.3M210,11.1h-2.2" stroke="#444" stroke-width="0.8" fill="none"/>
<text x="210" y="145.5" font-size="5.1" text-anchor="middle" font-weight="bold" fill="#111" stroke="#111" stroke-width="0.26">0</text>
<text x="242.56" y="145.5" font-size="5.1" text-anchor="middle" font-weight="bold" fill="#111" stroke="#111" stroke-width="0.26">200</text>
<text x="275.12" y="145.5" font-size="5.1" text-anchor="middle" font-weight="bold" fill="#111" stroke="#111" stroke-width="0.26">400</text>
<text x="307.68" y="145.5" font-size="5.1" text-anchor="middle" font-weight="bold" fill="#111" stroke="#111" stroke-width="0.26">600</text>
<text x="340.24" y="145.5" font-size="5.1" text-anchor="middle" font-weight="bold" fill="#111" stroke="#111" stroke-width="0.26">800</text>
<path d="M210,137.3v2.2M226.28,137.3v1.3M242.56,137.3v2.2M258.84,137.3v1.3M275.12,137.3v2.2M291.4,137.3v1.3M307.68,137.3v2.2M323.96,137.3v1.3M340.24,137.3v2.2" stroke="#444" stroke-width="0.8" fill="none"/>
<text x="218" y="112" font-size="4.8" text-anchor="middle" font-weight="bold" fill="#111" stroke="#111" stroke-width="0.24">2%</text>
<text x="234.7" y="99" font-size="4.8" text-anchor="middle" font-weight="bold" fill="#111" stroke="#111" stroke-width="0.24">3%</text>
<text x="256.5" y="79.5" font-size="4.8" text-anchor="middle" font-weight="bold" fill="#111" stroke="#111" stroke-width="0.24">4%</text>
<text x="283.7" y="62.8" font-size="4.8" text-anchor="middle" font-weight="bold" fill="#111" stroke="#111" stroke-width="0.24">5%</text>
<text x="329.8" y="31.1" font-size="4.8" text-anchor="middle" font-weight="bold" fill="#111" stroke="#111" stroke-width="0.24">10%</text>
<text x="284.7" y="157.6" font-size="8.3" text-anchor="middle" font-weight="bold" fill="#111" stroke="#111" stroke-width="0.29" textLength="31.1" lengthAdjust="spacingAndGlyphs">Time (s)</text>
<text x="378.2" y="15.8" font-size="16" text-anchor="start" font-weight="bold" fill="#111" stroke="#111" stroke-width="0.56">c</text>
<text transform="translate(378.9,81.3) rotate(-90)" font-family="Liberation Serif" font-size="9.2" font-weight="bold" fill="#111" stroke="#111" stroke-width="0.3" textLength="15" lengthAdjust="spacingAndGlyphs">ΔI/I</text>
<text transform="translate(382,66.9) rotate(-90)" font-family="Liberation Sans" font-size="4.8" font-weight="bold" fill="#333">0</text>
<path d="M394.6,130.6 L395.32,130.19 L396.28,129.65 L397.41,129.01 L398.68,128.3 L400.02,127.54 L401.39,126.75 L402.73,125.96 L404,125.2 L405.23,124.45 L406.5,123.67 L407.79,122.88 L409.09,122.07 L410.37,121.26 L411.63,120.44 L412.84,119.62 L414,118.8 L415.11,117.98 L416.19,117.15 L417.23,116.31 L418.25,115.47 L419.23,114.64 L420.19,113.81 L421.11,113 L422,112.2 L422.86,111.42 L423.67,110.66 L424.46,109.91 L425.21,109.16 L425.94,108.42 L426.65,107.69 L427.33,106.95 L428,106.2 L428.56,105.57 L428.97,105.1 L429.3,104.71 L429.64,104.27 L430.06,103.71 L430.65,102.91 L431.47,101.77 L432.6,100.2 L434.09,98.12 L435.89,95.61 L437.91,92.76 L440.1,89.68 L442.38,86.46 L444.69,83.2 L446.95,80.02 L449.1,77 L451.24,73.99 L453.48,70.83 L455.77,67.6 L458.04,64.41 L460.23,61.34 L462.27,58.48 L464.12,55.94 L465.7,53.8 L466.98,52.12 L467.98,50.83 L468.79,49.84 L469.45,49.07 L470.04,48.44 L470.62,47.86 L471.25,47.24 L472,46.5 L472.84,45.68 L473.7,44.87 L474.57,44.08 L475.46,43.31 L476.34,42.57 L477.23,41.85 L478.12,41.16 L479,40.5 L479.85,39.88 L480.68,39.3 L481.49,38.75 L482.31,38.23 L483.16,37.72 L484.04,37.21 L484.98,36.71 L486,36.2 L487.08,35.68 L488.2,35.17 L489.35,34.66 L490.56,34.16 L491.83,33.66 L493.15,33.16 L494.54,32.68 L496,32.2 L497.56,31.73 L499.22,31.26 L500.96,30.8 L502.75,30.35 L504.57,29.9 L506.41,29.46 L508.22,29.03 L510,28.6 L511.77,28.18 L513.55,27.75 L515.35,27.34 L517.14,26.93 L518.92,26.52 L520.66,26.13 L522.36,25.76 L524,25.4 L525.65,25.05 L527.36,24.69 L529.07,24.34 L530.73,24 L532.27,23.69 L533.65,23.41 L534.81,23.18 L535.7,23" stroke="#2ff0cc" stroke-width="1.7" fill="none" stroke-linejoin="round"/>
<path d="M394.6,130.8L426.4,108.8" stroke="#111" stroke-width="1.3"/>
<path d="M432.6,100.2L465.7,53.8" stroke="#17565c" stroke-width="1.5"/>
<path d="M483.8,36.3L535.7,19.5" stroke="#111" stroke-width="1.3"/>
<rect x="390.6" y="11.5" width="152.1" height="126" fill="none" stroke="#444" stroke-width="1.2"/>
<text x="386.9" y="132.4" font-size="5.1" text-anchor="end" font-weight="bold" fill="#111" stroke="#111" stroke-width="0.26">0</text>
<text x="386.9" y="106" font-size="5.1" text-anchor="end" font-weight="bold" fill="#111" stroke="#111" stroke-width="0.26">4</text>
<text x="386.9" y="79.6" font-size="5.1" text-anchor="end" font-weight="bold" fill="#111" stroke="#111" stroke-width="0.26">8</text>
<text x="386.9" y="53.2" font-size="5.1" text-anchor="end" font-weight="bold" fill="#111" stroke="#111" stroke-width="0.26">12</text>
<text x="386.9" y="26.8" font-size="5.1" text-anchor="end" font-weight="bold" fill="#111" stroke="#111" stroke-width="0.26">16</text>
<path d="M390.6,130.6h-2.2M390.6,117.4h-1.3M390.6,104.2h-2.2M390.6,91h-1.3M390.6,77.8h-2.2M390.6,64.6h-1.3M390.6,51.4h-2.2M390.6,38.2h-1.3M390.6,25h-2.2" stroke="#444" stroke-width="0.8" fill="none"/>
<text x="394.6" y="145.7" font-size="5.1" text-anchor="middle" font-weight="bold" fill="#111" stroke="#111" stroke-width="0.26">0</text>
<text x="431.6" y="145.7" font-size="5.1" text-anchor="middle" font-weight="bold" fill="#111" stroke="#111" stroke-width="0.26">10</text>
<text x="468.6" y="145.7" font-size="5.1" text-anchor="middle" font-weight="bold" fill="#111" stroke="#111" stroke-width="0.26">20</text>
<text x="505.6" y="145.7" font-size="5.1" text-anchor="middle" font-weight="bold" fill="#111" stroke="#111" stroke-width="0.26">30</text>
<text x="542.6" y="145.7" font-size="5.1" text-anchor="middle" font-weight="bold" fill="#111" stroke="#111" stroke-width="0.26">40</text>
<path d="M394.6,137.5v2.2M413.1,137.5v1.3M431.6,137.5v2.2M450.1,137.5v1.3M468.6,137.5v2.2M487.1,137.5v1.3M505.6,137.5v2.2M524.1,137.5v1.3M542.6,137.5v2.2" stroke="#444" stroke-width="0.8" fill="none"/>
<text x="423" y="122.6" font-size="9" fill="#1e1e1e" stroke="#1e1e1e" stroke-width="0.15" letter-spacing="-0.12">S<tspan font-size="5.6" dy="1.8">1</tspan><tspan dy="-1.8">=0.36 kPa</tspan><tspan font-size="5.6" dy="-3.4">-1</tspan></text>
<text x="449.8" y="84.7" font-size="9" fill="#1e1e1e" stroke="#1e1e1e" stroke-width="0.15" letter-spacing="-0.12">S<tspan font-size="5.6" dy="1.8">2</tspan><tspan dy="-1.8">=0.85 kPa</tspan><tspan font-size="5.6" dy="-3.4">-1</tspan></text>
<text x="489.6" y="43.8" font-size="9" fill="#1e1e1e" stroke="#1e1e1e" stroke-width="0.15" letter-spacing="-0.12">S<tspan font-size="5.6" dy="1.8">3</tspan><tspan dy="-1.8">=0.18 kPa</tspan><tspan font-size="5.6" dy="-3.4">-1</tspan></text>
<text x="468.5" y="154.3" font-size="8.3" text-anchor="middle" font-weight="bold" fill="#111" stroke="#111" stroke-width="0.29" textLength="37.9" lengthAdjust="spacingAndGlyphs">Stress (kPa)</text>
<text x="190.6" y="175.7" font-size="16" text-anchor="start" font-weight="bold" fill="#111" stroke="#111" stroke-width="0.56">e</text>
<text transform="translate(197.1,244.6) rotate(-90)" font-family="Liberation Serif" font-size="9.2" font-weight="bold" fill="#111" stroke="#111" stroke-width="0.3" textLength="15" lengthAdjust="spacingAndGlyphs">ΔI/I</text>
<text transform="translate(200.2,230.2) rotate(-90)" font-family="Liberation Sans" font-size="4.8" font-weight="bold" fill="#333">0</text>
<path d="M210.3,272 L210.4,271.49 L210.5,270.99 L210.61,270.48 L210.71,269.98 L210.81,269.49 L210.91,269 L211.01,268.52 L211.11,268.05 L211.22,267.59 L211.32,267.14 L211.42,266.7 L211.52,266.28 L211.62,265.88 L211.73,265.48 L211.83,265.11 L211.93,264.75 L212.03,264.41 L212.13,264.09 L212.23,263.79 L212.34,263.51 L212.44,263.25 L212.54,263.01 L212.64,262.8 L212.74,262.6 L212.85,262.68 L212.95,263.1 L213.05,263.56 L213.15,264.06 L213.25,264.6 L213.35,265.17 L213.46,265.78 L213.56,266.43 L213.66,267.11 L213.76,267.83 L213.86,268.58 L213.97,269.37 L214.07,270.18 L214.17,271.03 L214.27,271.91 L214.37,272.81 L214.47,273.74 L214.58,274.7 L214.68,275.68 L214.78,276.69 L214.88,277.71 L214.98,278.75 L215.09,279.81 L215.19,280.89 L215.29,281.97 L215.39,283.07 L215.49,284.18 L215.59,285.3 L215.7,286.43 L215.8,287.55 L215.9,288.68 L216,287.55 L216.1,286.42 L216.2,285.3 L216.3,284.18 L216.4,283.07 L216.5,281.97 L216.6,280.87 L216.7,279.8 L216.8,278.73 L216.9,277.69 L217,276.66 L217.1,275.65 L217.2,274.66 L217.3,273.7 L217.4,272.76 L217.5,271.85 L217.6,270.96 L217.7,270.11 L217.8,269.28 L217.9,268.48 L218,267.72 L218.1,266.99 L218.2,266.29 L218.3,265.62 L218.4,265 L218.5,264.41 L218.6,263.85 L218.7,263.33 L218.8,262.85 L218.9,262.41 L219,262 L219.1,262.45 L219.2,262.94 L219.3,263.48 L219.4,264.06 L219.5,264.69 L219.6,265.36 L219.7,266.07 L219.8,266.83 L219.9,267.62 L220,268.46 L220.1,269.34 L220.2,270.25 L220.3,271.2 L220.4,272.18 L220.5,273.2 L220.6,274.24 L220.7,275.32 L220.8,276.42 L220.9,277.54 L221,278.69 L221.1,279.85 L221.2,281.04 L221.3,282.24 L221.4,283.45 L221.5,284.67 L221.6,285.9 L221.7,287.13 L221.8,288.37 L221.9,287.01 L222,285.66 L222.11,284.31 L222.21,282.97 L222.31,281.64 L222.41,280.33 L222.51,279.03 L222.62,277.76 L222.72,276.5 L222.82,275.28 L222.92,274.07 L223.02,272.9 L223.13,271.76 L223.23,270.66 L223.33,269.59 L223.43,268.56 L223.53,267.58 L223.64,266.63 L223.74,265.73 L223.84,264.87 L223.94,264.06 L224.04,263.29 L224.15,262.58 L224.25,261.91 L224.35,261.3 L224.45,260.73 L224.55,260.22 L224.65,260.31 L224.76,260.95 L224.86,261.65 L224.96,262.43 L225.06,263.27 L225.16,264.19 L225.27,265.17 L225.37,266.21 L225.47,267.32 L225.57,268.49 L225.67,269.72 L225.78,271 L225.88,272.33 L225.98,273.71 L226.08,275.14 L226.18,276.6 L226.29,278.1 L226.39,279.64 L226.49,281.2 L226.59,282.79 L226.69,284.39 L226.8,286.01 L226.9,287.64 L227,289.27 L227.1,287.59 L227.2,285.92 L227.3,284.26 L227.4,282.61 L227.5,280.97 L227.6,279.37 L227.7,277.78 L227.8,276.24 L227.9,274.72 L228,273.25 L228.1,271.82 L228.2,270.44 L228.3,269.11 L228.4,267.84 L228.5,266.62 L228.6,265.46 L228.7,264.37 L228.8,263.33 L228.9,262.37 L229,261.48 L229.1,260.65 L229.2,259.89 L229.3,259.21 L229.4,258.6 L229.5,259.19 L229.6,259.85 L229.7,260.58 L229.8,261.38 L229.9,262.24 L230,263.17 L230.1,264.17 L230.2,265.23 L230.3,266.35 L230.4,267.52 L230.5,268.76 L230.6,270.04 L230.7,271.37 L230.8,272.75 L230.9,274.18 L231,275.64 L231.1,277.13 L231.2,278.66 L231.3,280.21 L231.4,281.79 L231.5,283.38 L231.6,284.99 L231.7,286.61 L231.8,288.23 L231.9,286.82 L232,285.41 L232.11,284.02 L232.21,282.63 L232.31,281.26 L232.41,279.91 L232.51,278.59 L232.62,277.29 L232.72,276.03 L232.82,274.8 L232.92,273.61 L233.03,272.46 L233.13,271.35 L233.23,270.29 L233.33,269.29 L233.43,268.33 L233.54,267.43 L233.64,266.58 L233.74,265.8 L233.84,265.07 L233.94,264.4 L234.05,263.79 L234.15,263.25 L234.25,263.26 L234.35,263.82 L234.46,264.45 L234.56,265.14 L234.66,265.89 L234.76,266.7 L234.86,267.58 L234.97,268.51 L235.07,269.49 L235.17,270.54 L235.27,271.63 L235.37,272.77 L235.48,273.96 L235.58,275.19 L235.68,276.46 L235.78,277.77 L235.89,279.11 L235.99,280.47 L236.09,281.87 L236.19,283.28 L236.29,284.71 L236.4,286.16 L236.5,287.61 L236.6,289.06 L236.7,287.57 L236.8,286.08 L236.9,284.59 L237,283.12 L237.11,281.67 L237.21,280.24 L237.31,278.83 L237.41,277.45 L237.51,276.1 L237.61,274.8 L237.71,273.53 L237.81,272.3 L237.91,271.12 L238.01,269.99 L238.12,268.91 L238.22,267.89 L238.32,266.92 L238.42,266.01 L238.52,265.17 L238.62,264.38 L238.72,263.66 L238.82,263 L238.92,262.4 L239.02,262.12 L239.13,262.67 L239.23,263.27 L239.33,263.94 L239.43,264.66 L239.53,265.45 L239.63,266.29 L239.73,267.19 L239.83,268.15 L239.93,269.16 L240.04,270.21 L240.14,271.32 L240.24,272.48 L240.34,273.67 L240.44,274.91 L240.54,276.19 L240.64,277.5 L240.74,278.83 L240.84,280.2 L240.94,281.59 L241.05,283 L241.15,284.43 L241.25,285.86 L241.35,287.31 L241.45,288.76 L241.55,287.27 L241.65,285.79 L241.75,284.31 L241.85,282.85 L241.95,281.4 L242.05,279.97 L242.15,278.57 L242.25,277.19 L242.35,275.84 L242.45,274.53 L242.55,273.25 L242.65,272.02 L242.75,270.83 L242.85,269.68 L242.95,268.59 L243.05,267.55 L243.15,266.56 L243.25,265.62 L243.35,264.74 L243.45,263.93 L243.55,263.17 L243.65,262.47 L243.75,261.84 L243.85,261.26 L243.95,261.28 L244.05,261.9 L244.15,262.59 L244.25,263.35 L244.35,264.18 L244.45,265.08 L244.55,266.05 L244.65,267.09 L244.75,268.18 L244.85,269.34 L244.95,270.56 L245.05,271.83 L245.15,273.15 L245.25,274.51 L245.35,275.92 L245.45,277.37 L245.55,278.85 L245.65,280.37 L245.75,281.9 L245.85,283.46 L245.95,285.03 L246.05,286.62 L246.15,288.2 L246.25,286.73 L246.35,285.27 L246.45,283.81 L246.55,282.37 L246.65,280.94 L246.75,279.54 L246.85,278.17 L246.95,276.83 L247.05,275.52 L247.15,274.25 L247.25,273.03 L247.35,271.85 L247.45,270.73 L247.55,269.65 L247.65,268.64 L247.75,267.68 L247.85,266.78 L247.95,265.95 L248.05,265.18 L248.15,264.47 L248.25,263.83 L248.35,263.26 L248.45,263.25 L248.55,263.78 L248.65,264.38 L248.75,265.03 L248.85,265.74 L248.95,266.51 L249.05,267.33 L249.15,268.21 L249.25,269.13 L249.35,270.11 L249.45,271.14 L249.55,272.21 L249.65,273.33 L249.75,274.48 L249.85,275.68 L249.95,276.91 L250.05,278.17 L250.15,279.46 L250.25,280.78 L250.35,282.12 L250.45,283.47 L250.55,284.85 L250.65,286.23 L250.75,287.62 L250.85,289.01 L250.95,287.39 L251.05,285.77 L251.15,284.16 L251.25,282.56 L251.36,280.98 L251.46,279.42 L251.56,277.89 L251.66,276.39 L251.76,274.92 L251.86,273.49 L251.96,272.1 L252.06,270.76 L252.16,269.46 L252.26,268.22 L252.37,267.03 L252.47,265.9 L252.57,264.83 L252.67,263.82 L252.77,262.87 L252.87,261.99 L252.97,261.18 L253.07,260.43 L253.17,259.75 L253.27,259.15 L253.38,259.4 L253.48,259.98 L253.58,260.62 L253.68,261.32 L253.78,262.09 L253.88,262.9 L253.98,263.78 L254.08,264.71 L254.18,265.69 L254.28,266.72 L254.39,267.8 L254.49,268.93 L254.59,270.11 L254.69,271.32 L254.79,272.58 L254.89,273.88 L254.99,275.2 L255.09,276.56 L255.19,277.95 L255.29,279.37 L255.4,280.8 L255.5,282.25 L255.6,283.72 L255.7,285.19 L255.8,286.68 L255.9,288.17 L256,286.65 L256.1,285.14 L256.2,283.64 L256.3,282.15 L256.41,280.67 L256.51,279.21 L256.61,277.78 L256.71,276.36 L256.81,274.98 L256.91,273.63 L257.01,272.31 L257.11,271.03 L257.21,269.79 L257.31,268.6 L257.42,267.45 L257.52,266.35 L257.62,265.3 L257.72,264.3 L257.82,263.35 L257.92,262.47 L258.02,261.63 L258.12,260.86 L258.22,260.15 L258.32,259.49 L258.43,258.9 L258.53,258.66 L258.63,259.3 L258.73,260.02 L258.83,260.82 L258.93,261.69 L259.03,262.64 L259.13,263.65 L259.23,264.74 L259.33,265.89 L259.44,267.11 L259.54,268.39 L259.64,269.72 L259.74,271.11 L259.84,272.56 L259.94,274.05 L260.04,275.59 L260.14,277.16 L260.24,278.77 L260.34,280.41 L260.45,282.07 L260.55,283.76 L260.65,285.46 L260.75,287.17 L260.85,288.88 L260.95,287.36 L261.05,285.85 L261.15,284.35 L261.25,282.86 L261.36,281.38 L261.46,279.93 L261.56,278.51 L261.66,277.12 L261.76,275.76 L261.86,274.44 L261.96,273.16 L262.06,271.93 L262.16,270.75 L262.26,269.62 L262.37,268.54 L262.47,267.52 L262.57,266.56 L262.67,265.66 L262.77,264.82 L262.87,264.05 L262.97,263.35 L263.07,262.71 L263.17,262.14 L263.27,262.35 L263.38,262.88 L263.48,263.46 L263.58,264.09 L263.68,264.77 L263.78,265.51 L263.88,266.29 L263.98,267.13 L264.08,268.01 L264.18,268.94 L264.28,269.91 L264.39,270.93 L264.49,271.98 L264.59,273.08 L264.69,274.21 L264.79,275.37 L264.89,276.57 L264.99,277.79 L265.09,279.04 L265.19,280.31 L265.29,281.6 L265.4,282.91 L265.5,284.22 L265.6,285.55 L265.7,286.89 L265.8,288.23 L265.9,286.84 L266,285.45 L266.1,284.07 L266.2,282.7 L266.3,281.35 L266.41,280.01 L266.51,278.69 L266.61,277.4 L266.71,276.13 L266.81,274.89 L266.91,273.68 L267.01,272.5 L267.11,271.37 L267.21,270.27 L267.31,269.22 L267.42,268.21 L267.52,267.24 L267.62,266.33 L267.72,265.46 L267.82,264.64 L267.92,263.88 L268.02,263.17 L268.12,262.51 L268.22,261.91 L268.32,261.37 L268.43,261.13 L268.53,261.69 L268.63,262.3 L268.73,262.98 L268.83,263.72 L268.93,264.52 L269.03,265.38 L269.13,266.3 L269.23,267.27 L269.33,268.3 L269.44,269.38 L269.54,270.5 L269.64,271.68 L269.74,272.9 L269.84,274.16 L269.94,275.46 L270.04,276.79 L270.14,278.16 L270.24,279.55 L270.35,280.96 L270.45,282.4 L270.55,283.85 L270.65,285.32 L270.75,286.79 L270.85,288.26 L270.95,286.77 L271.05,285.28 L271.16,283.8 L271.26,282.33 L271.36,280.88 L271.46,279.45 L271.57,278.04 L271.67,276.67 L271.77,275.32 L271.87,274.01 L271.97,272.74 L272.08,271.51 L272.18,270.33 L272.28,269.2 L272.38,268.11 L272.48,267.08 L272.59,266.11 L272.69,265.19 L272.79,264.34 L272.89,263.54 L273,262.81 L273.1,262.14 L273.2,261.53 L273.3,261.01 L273.4,261.62 L273.51,262.31 L273.61,263.07 L273.71,263.92 L273.81,264.83 L273.92,265.82 L274.02,266.88 L274.12,268.01 L274.22,269.2 L274.32,270.46 L274.43,271.77 L274.53,273.14 L274.63,274.56 L274.73,276.03 L274.83,277.54 L274.94,279.09 L275.04,280.67 L275.14,282.27 L275.24,283.9 L275.35,285.55 L275.45,287.2 L275.55,288.86 L275.65,287.06 L275.75,285.26 L275.86,283.47 L275.96,281.7 L276.06,279.96 L276.16,278.24 L276.27,276.56 L276.37,274.92 L276.47,273.32 L276.57,271.78 L276.67,270.29 L276.78,268.86 L276.88,267.5 L276.98,266.2 L277.08,264.98 L277.19,263.83 L277.29,262.75 L277.39,261.76 L277.49,260.85 L277.59,260.02 L277.7,259.27 L277.8,258.61 L277.9,259.24 L278,259.96 L278.11,260.77 L278.21,261.65 L278.31,262.61 L278.41,263.64 L278.51,264.75 L278.62,265.92 L278.72,267.17 L278.82,268.48 L278.92,269.85 L279.03,271.28 L279.13,272.76 L279.23,274.3 L279.33,275.88 L279.43,277.5 L279.54,279.16 L279.64,280.85 L279.74,282.56 L279.84,284.3 L279.95,286.05 L280.05,287.82 L280.15,289.59 L280.25,288.07 L280.35,286.57 L280.45,285.06 L280.55,283.58 L280.65,282.11 L280.75,280.66 L280.85,279.24 L280.95,277.85 L281.05,276.49 L281.15,275.17 L281.25,273.89 L281.35,272.65 L281.45,271.47 L281.55,270.33 L281.65,269.25 L281.75,268.22 L281.85,267.26 L281.95,266.35 L282.05,265.5 L282.15,264.72 L282.25,264 L282.35,263.35 L282.45,262.77 L282.55,262.74 L282.65,263.28 L282.75,263.87 L282.85,264.52 L282.95,265.22 L283.05,265.98 L283.15,266.8 L283.25,267.67 L283.35,268.59 L283.45,269.56 L283.55,270.58 L283.65,271.64 L283.75,272.75 L283.85,273.9 L283.95,275.09 L284.05,276.31 L284.15,277.56 L284.25,278.84 L284.35,280.15 L284.45,281.48 L284.55,282.82 L284.65,284.19 L284.75,285.56 L284.85,286.94 L284.95,288.32 L285.05,286.69 L285.15,285.05 L285.25,283.43 L285.35,281.82 L285.45,280.23 L285.55,278.66 L285.65,277.11 L285.75,275.6 L285.85,274.12 L285.95,272.68 L286.05,271.27 L286.15,269.92 L286.25,268.61 L286.35,267.35 L286.45,266.14 L286.55,265 L286.65,263.91 L286.75,262.88 L286.85,261.92 L286.95,261.02 L287.05,260.18 L287.15,259.42 L287.25,258.72 L287.35,258.09 L287.45,258.1 L287.55,258.77 L287.65,259.5 L287.75,260.32 L287.85,261.2 L287.95,262.16 L288.05,263.19 L288.15,264.29 L288.25,265.45 L288.35,266.68 L288.45,267.96 L288.55,269.31 L288.65,270.71 L288.75,272.16 L288.85,273.65 L288.95,275.19 L289.05,276.77 L289.15,278.38 L289.25,280.02 L289.35,281.69 L289.45,283.37 L289.55,285.08 L289.65,286.79 L289.75,288.5 L289.85,287.08 L289.95,285.66 L290.05,284.25 L290.15,282.85 L290.26,281.47 L290.36,280.1 L290.46,278.77 L290.56,277.46 L290.66,276.19 L290.76,274.95 L290.86,273.75 L290.96,272.59 L291.06,271.48 L291.17,270.42 L291.27,269.41 L291.37,268.46 L291.47,267.56 L291.57,266.71 L291.67,265.93 L291.77,265.21 L291.87,264.55 L291.98,263.95 L292.08,263.42 L292.18,263.75 L292.28,264.42 L292.38,265.16 L292.48,265.99 L292.58,266.89 L292.68,267.87 L292.78,268.93 L292.89,270.05 L292.99,271.25 L293.09,272.5 L293.19,273.82 L293.29,275.2 L293.39,276.62 L293.49,278.09 L293.59,279.6 L293.69,281.15 L293.8,282.73 L293.9,284.33 L294,285.96 L294.1,287.59 L294.2,289.23 L294.3,287.17 L294.4,285.11 L294.51,283.07 L294.61,281.06 L294.71,279.07 L294.81,277.13 L294.92,275.23 L295.02,273.38 L295.12,271.59 L295.22,269.87 L295.33,268.22 L295.43,266.65 L295.53,265.16 L295.63,263.76 L295.74,262.45 L295.84,261.24 L295.94,260.12 L296.04,259.1 L296.15,258.19 L296.25,257.38 L296.35,257.35 L296.45,258.13 L296.55,259.01 L296.66,259.98 L296.76,261.05 L296.86,262.2 L296.96,263.45 L297.07,264.78 L297.17,266.2 L297.27,267.69 L297.37,269.25 L297.48,270.89 L297.58,272.59 L297.68,274.35 L297.78,276.16 L297.89,278.02 L297.99,279.92 L298.09,281.86 L298.19,283.82 L298.3,285.8 L298.4,287.8 L298.5,289.81 L298.6,287.97 L298.7,286.14 L298.8,284.32 L298.9,282.52 L299.01,280.75 L299.11,279 L299.21,277.3 L299.31,275.63 L299.41,274.01 L299.51,272.45 L299.61,270.94 L299.71,269.5 L299.82,268.12 L299.92,266.81 L300.02,265.58 L300.12,264.43 L300.22,263.35 L300.32,262.36 L300.42,261.45 L300.52,260.62 L300.63,259.89 L300.73,259.59 L300.83,260.37 L300.93,261.25 L301.03,262.24 L301.13,263.34 L301.23,264.54 L301.33,265.84 L301.44,267.23 L301.54,268.72 L301.64,270.29 L301.74,271.93 L301.84,273.65 L301.94,275.44 L302.04,277.28 L302.14,279.18 L302.25,281.12 L302.35,283.09 L302.45,285.09 L302.55,287.11 L302.65,289.14 L302.75,287.03 L302.85,284.93 L302.95,282.84 L303.05,280.79 L303.15,278.77 L303.25,276.79 L303.35,274.86 L303.45,273 L303.55,271.2 L303.65,269.48 L303.75,267.83 L303.85,266.28 L303.95,264.81 L304.05,263.44 L304.15,262.17 L304.25,261.01 L304.35,259.96 L304.45,259.01 L304.55,258.18 L304.65,258.14 L304.75,258.88 L304.85,259.71 L304.95,260.63 L305.05,261.63 L305.15,262.73 L305.25,263.91 L305.35,265.17 L305.45,266.5 L305.55,267.91 L305.65,269.39 L305.75,270.94 L305.85,272.55 L305.95,274.21 L306.05,275.92 L306.15,277.68 L306.25,279.47 L306.35,281.3 L306.45,283.16 L306.55,285.03 L306.65,286.92 L306.75,288.81 L306.85,287 L306.95,285.19 L307.05,283.39 L307.15,281.61 L307.26,279.86 L307.36,278.14 L307.46,276.45 L307.56,274.81 L307.66,273.22 L307.76,271.69 L307.86,270.21 L307.96,268.8 L308.07,267.46 L308.17,266.19 L308.27,264.99 L308.37,263.88 L308.47,262.84 L308.57,261.89 L308.67,261.03 L308.77,260.25 L308.87,259.56 L308.98,259.9 L309.08,260.63 L309.18,261.46 L309.28,262.37 L309.38,263.37 L309.48,264.44 L309.58,265.6 L309.68,266.84 L309.78,268.15 L309.89,269.53 L309.99,270.97 L310.09,272.48 L310.19,274.05 L310.29,275.67 L310.39,277.33 L310.49,279.04 L310.59,280.79 L310.7,282.56 L310.8,284.37 L310.9,286.19 L311,288.02 L311.1,289.86 L311.2,288.16 L311.3,286.48 L311.4,284.8 L311.5,283.14 L311.61,281.51 L311.71,279.9 L311.81,278.32 L311.91,276.79 L312.01,275.3 L312.11,273.86 L312.21,272.47 L312.31,271.14 L312.41,269.87 L312.52,268.66 L312.62,267.52 L312.72,266.46 L312.82,265.46 L312.92,264.55 L313.02,263.71 L313.12,262.94 L313.22,262.26 L313.32,261.93 L313.43,262.49 L313.53,263.11 L313.63,263.8 L313.73,264.56 L313.83,265.38 L313.93,266.26 L314.03,267.2 L314.13,268.2 L314.23,269.26 L314.34,270.37 L314.44,271.53 L314.54,272.74 L314.64,274 L314.74,275.29 L314.84,276.63 L314.94,278 L315.04,279.39 L315.14,280.82 L315.25,282.27 L315.35,283.73 L315.45,285.21 L315.55,286.69 L315.65,288.18 L315.75,286.47 L315.85,284.76 L315.95,283.06 L316.05,281.38 L316.15,279.71 L316.26,278.07 L316.36,276.46 L316.46,274.89 L316.56,273.35 L316.66,271.86 L316.76,270.42 L316.86,269.03 L316.96,267.69 L317.06,266.41 L317.16,265.19 L317.27,264.04 L317.37,262.96 L317.47,261.94 L317.57,261 L317.67,260.12 L317.77,259.33 L317.87,258.61 L317.97,257.96 L318.07,258.21 L318.17,258.82 L318.28,259.49 L318.38,260.22 L318.48,261.01 L318.58,261.86 L318.68,262.76 L318.78,263.72 L318.88,264.74 L318.98,265.8 L319.08,266.92 L319.19,268.09 L319.29,269.3 L319.39,270.56 L319.49,271.86 L319.59,273.2 L319.69,274.58 L319.79,275.98 L319.89,277.42 L319.99,278.89 L320.09,280.38 L320.19,281.89 L320.3,283.42 L320.4,284.97 L320.5,286.52 L320.6,288.08 L320.7,289.65 L320.8,288.12 L320.9,286.6 L321.01,285.08 L321.11,283.58 L321.21,282.09 L321.31,280.61 L321.41,279.16 L321.52,277.73 L321.62,276.33 L321.72,274.96 L321.82,273.63 L321.92,272.32 L322.03,271.06 L322.13,269.84 L322.23,268.66 L322.33,267.53 L322.43,266.45 L322.54,265.42 L322.64,264.44 L322.74,263.51 L322.84,262.64 L322.94,261.83 L323.05,261.07 L323.15,260.37 L323.25,259.73 L323.35,259.15 L323.45,259.21 L323.56,259.85 L323.66,260.57 L323.76,261.36 L323.86,262.22 L323.96,263.14 L324.07,264.14 L324.17,265.2 L324.27,266.33 L324.37,267.51 L324.47,268.76 L324.58,270.06 L324.68,271.41 L324.78,272.82 L324.88,274.26 L324.98,275.75 L325.09,277.28 L325.19,278.84 L325.29,280.42 L325.39,282.03 L325.49,283.66 L325.6,285.31 L325.7,286.96 L325.8,288.62 L325.9,287.13 L326,285.65 L326.1,284.18 L326.2,282.71 L326.3,281.27 L326.41,279.84 L326.51,278.44 L326.61,277.07 L326.71,275.74 L326.81,274.44 L326.91,273.17 L327.01,271.95 L327.11,270.78 L327.21,269.66 L327.31,268.59 L327.42,267.57 L327.52,266.61 L327.62,265.7 L327.72,264.86 L327.82,264.08 L327.92,263.36 L328.02,262.7 L328.12,262.11 L328.22,261.8 L328.32,262.28 L328.43,262.81 L328.53,263.38 L328.63,264 L328.73,264.67 L328.83,265.38 L328.93,266.14 L329.03,266.95 L329.13,267.8 L329.23,268.69 L329.33,269.62 L329.44,270.59 L329.54,271.6 L329.64,272.64 L329.74,273.72 L329.84,274.82 L329.94,275.96 L330.04,277.12 L330.14,278.31 L330.24,279.52 L330.34,280.74 L330.45,281.99 L330.55,283.24 L330.65,284.51 L330.75,285.79 L330.85,287.07 L330.95,288.36 L331.05,286.99 L331.15,285.62 L331.25,284.25 L331.35,282.89 L331.45,281.55 L331.55,280.22 L331.65,278.91 L331.75,277.62 L331.85,276.35 L331.95,275.1 L332.05,273.89 L332.15,272.7 L332.25,271.55 L332.35,270.43 L332.45,269.35 L332.55,268.3 L332.65,267.3 L332.75,266.34 L332.85,265.43 L332.95,264.56 L333.05,263.74 L333.15,262.96 L333.25,262.24 L333.35,261.56 L333.45,260.94 L333.55,260.36 L333.65,259.84 L333.75,259.86 L333.85,260.43 L333.95,261.05 L334.05,261.74 L334.15,262.48 L334.25,263.28 L334.35,264.14 L334.45,265.06 L334.55,266.02 L334.65,267.04 L334.75,268.11 L334.85,269.23 L334.95,270.39 L335.05,271.59 L335.15,272.84 L335.25,274.12 L335.35,275.44 L335.45,276.79 L335.55,278.16 L335.65,279.57 L335.75,280.99 L335.85,282.43 L335.95,283.89 L336.05,285.36 L336.15,286.83 L336.25,288.31 L336.35,286.67 L336.45,285.04 L336.55,283.42 L336.65,281.8 L336.75,280.21 L336.86,278.63 L336.96,277.08 L337.06,275.56 L337.16,274.07 L337.26,272.61 L337.36,271.2 L337.46,269.82 L337.56,268.49 L337.66,267.21 L337.76,265.98 L337.86,264.81 L337.96,263.69 L338.07,262.63 L338.17,261.62 L338.27,260.68 L338.37,259.81 L338.47,259 L338.57,258.25 L338.67,257.57 L338.77,256.96 L338.87,257.14 L338.97,257.64 L339.07,258.19 L339.18,258.78 L339.28,259.41 L339.38,260.08 L339.48,260.8 L339.58,261.55 L339.68,262.35 L339.78,263.18 L339.88,264.06 L339.98,264.97 L340.08,265.91 L340.18,266.89 L340.29,267.91 L340.39,268.95 L340.49,270.03 L340.59,271.13 L340.69,272.27 L340.79,273.42 L340.89,274.61 L340.99,275.81 L341.09,277.04 L341.19,278.28 L341.29,279.54 L341.39,280.81 L341.5,282.1 L341.6,283.4 L341.7,284.71 L341.8,286.02 L341.9,287.34 L342,288.66 L342.1,287.34 L342.2,286.02 L342.3,284.71 L342.4,283.4 L342.5,282.1 L342.61,280.81 L342.71,279.54 L342.81,278.28 L342.91,277.04 L343.01,275.81 L343.11,274.61 L343.21,273.42 L343.31,272.27 L343.41,271.13 L343.51,270.03 L343.61,268.95 L343.71,267.91 L343.82,266.89 L343.92,265.91 L344.02,264.97 L344.12,264.06 L344.22,263.18 L344.32,262.35 L344.42,261.55 L344.52,260.8 L344.62,260.08 L344.72,259.41 L344.82,258.78 L344.93,258.19 L345.03,257.64 L345.13,257.14 L345.23,256.97 L345.33,257.6 L345.43,258.31 L345.53,259.09 L345.63,259.93 L345.73,260.84 L345.83,261.82 L345.93,262.86 L346.04,263.96 L346.14,265.13 L346.24,266.35 L346.34,267.63 L346.44,268.96 L346.54,270.34 L346.64,271.77 L346.74,273.24 L346.84,274.76 L346.94,276.31 L347.04,277.89 L347.14,279.5 L347.25,281.14 L347.35,282.8 L347.45,284.48 L347.55,286.17 L347.65,287.87 L347.75,289.57 L347.85,287.88 L347.95,286.2 L348.05,284.52 L348.15,282.86 L348.25,281.21 L348.35,279.59 L348.45,277.99 L348.55,276.42 L348.65,274.88 L348.75,273.37 L348.85,271.91 L348.95,270.49 L349.05,269.11 L349.15,267.79 L349.25,266.51 L349.35,265.29 L349.45,264.13 L349.55,263.03 L349.65,261.98 L349.75,261.01 L349.85,260.09 L349.95,259.24 L350.05,258.46 L350.15,257.74 L350.25,257.1 L350.35,257.01 L350.45,257.46 L350.55,257.94 L350.65,258.46 L350.75,259.02 L350.85,259.61 L350.95,260.24 L351.05,260.9 L351.15,261.59 L351.25,262.32 L351.35,263.08 L351.45,263.87 L351.55,264.7 L351.65,265.55 L351.75,266.44 L351.85,267.35 L351.95,268.29 L352.05,269.25 L352.15,270.25 L352.25,271.26 L352.35,272.3 L352.45,273.36 L352.55,274.44 L352.65,275.54 L352.75,276.65 L352.85,277.78 L352.95,278.93 L353.05,280.09 L353.15,281.26 L353.25,282.44 L353.35,283.62 L353.45,284.82 L353.55,286.02 L353.65,287.22 L353.75,288.43 L353.85,287.27 L353.95,286.11 L354.05,284.95 L354.15,283.8 L354.25,282.66 L354.35,281.53 L354.46,280.4 L354.56,279.28 L354.66,278.18 L354.76,277.09 L354.86,276.02 L354.96,274.97 L355.06,273.93 L355.16,272.91 L355.26,271.91 L355.36,270.94 L355.46,269.99 L355.56,269.06 L355.66,268.16 L355.76,267.28 L355.87,266.44 L355.97,265.62 L356.07,264.83 L356.17,264.07 L356.27,263.35 L356.37,262.65 L356.47,261.99 L356.57,261.36 L356.67,260.76 L356.77,260.2 L356.87,259.67 L356.97,259.18 L357.07,258.72 L357.18,258.3 L357.28,258.52 L357.38,258.98 L357.48,259.47 L357.58,260 L357.68,260.56 L357.78,261.17 L357.88,261.8 L357.98,262.47 L358.08,263.18 L358.18,263.92 L358.28,264.69 L358.38,265.5 L358.48,266.33 L358.59,267.2 L358.69,268.1 L358.79,269.02 L358.89,269.97 L358.99,270.95 L359.09,271.95 L359.19,272.98 L359.29,274.03 L359.39,275.1 L359.49,276.18 L359.59,277.29 L359.69,278.41 L359.79,279.55 L359.89,280.7 L360,281.87 L360.1,283.04 L360.2,284.22 L360.3,285.41 L360.4,286.6 L360.5,287.8 L360.6,289 L361,295" stroke="#1a74bd" stroke-width="1.65" fill="none" stroke-linejoin="round"/>
<rect x="210" y="169.5" width="151" height="125.7" fill="none" stroke="#444" stroke-width="1.2"/>
<text x="206.3" y="292" font-size="5.1" text-anchor="end" font-weight="bold" fill="#111" stroke="#111" stroke-width="0.26">0</text>
<text x="206.3" y="265.21" font-size="5.1" text-anchor="end" font-weight="bold" fill="#111" stroke="#111" stroke-width="0.26">3</text>
<text x="206.3" y="238.42" font-size="5.1" text-anchor="end" font-weight="bold" fill="#111" stroke="#111" stroke-width="0.26">6</text>
<text x="206.3" y="211.63" font-size="5.1" text-anchor="end" font-weight="bold" fill="#111" stroke="#111" stroke-width="0.26">9</text>
<text x="206.3" y="184.84" font-size="5.1" text-anchor="end" font-weight="bold" fill="#111" stroke="#111" stroke-width="0.26">12</text>
<path d="M210,290.2h-2.2M210,276.81h-1.3M210,263.41h-2.2M210,250.01h-1.3M210,236.62h-2.2M210,223.22h-1.3M210,209.83h-2.2M210,196.44h-1.3M210,183.04h-2.2" stroke="#444" stroke-width="0.8" fill="none"/>
<text x="210.3" y="303.9" font-size="5.1" text-anchor="middle" font-weight="bold" fill="#111" stroke="#111" stroke-width="0.26">0</text>
<text x="244.1" y="303.9" font-size="5.1" text-anchor="middle" font-weight="bold" fill="#111" stroke="#111" stroke-width="0.26">20</text>
<text x="277.9" y="303.9" font-size="5.1" text-anchor="middle" font-weight="bold" fill="#111" stroke="#111" stroke-width="0.26">40</text>
<text x="311.7" y="303.9" font-size="5.1" text-anchor="middle" font-weight="bold" fill="#111" stroke="#111" stroke-width="0.26">60</text>
<text x="345.5" y="303.9" font-size="5.1" text-anchor="middle" font-weight="bold" fill="#111" stroke="#111" stroke-width="0.26">80</text>
<path d="M210.3,295.2v2.2M227.2,295.2v1.3M244.1,295.2v2.2M261,295.2v1.3M277.9,295.2v2.2M294.8,295.2v1.3M311.7,295.2v2.2M328.6,295.2v1.3M345.5,295.2v2.2" stroke="#444" stroke-width="0.8" fill="none"/>
<text x="287.2" y="313.4" font-size="8.3" text-anchor="middle" font-weight="bold" fill="#111" stroke="#111" stroke-width="0.29" textLength="32.7" lengthAdjust="spacingAndGlyphs">Time (s)</text>
<rect x="226.5" y="256.2" width="52.3" height="37.6" fill="none" stroke="#3a3a3a" stroke-width="1.1" stroke-dasharray="3.6,3.1"/>
<path d="M252.4,253.5V244" stroke="#222" stroke-width="0.9"/><path d="M250.5,244.8L252.4,240.6L254.3,244.8Z" fill="#222"/>
<rect x="219.8" y="189.4" width="95.6" height="48.6" fill="#fff" stroke="#555" stroke-width="0.9"/>
<path d="M220.3,233.5 L220.8,237 L221.4,232 L222,232.8 L223,220.2 L224.2,204.45 L225,201.3 L225.9,206.03 L227.2,217.05 L228.6,228.08 L229.8,232.2 L230.3,233 L230.6,237.2 L230.9,233 L230.8,232.8 L231.8,223.04 L233,210.84 L233.8,208.4 L234.7,212.06 L236,220.6 L237.4,229.14 L238.6,232.2 L239.1,233 L239.4,237.2 L239.7,233 L239.2,232.8 L240.2,221.64 L241.4,207.69 L242.2,204.9 L243.1,209.09 L244.4,218.85 L245.8,228.62 L247,232.2 L247.5,233 L248.1,232.8 L249.1,221.16 L250.3,206.61 L251.1,203.7 L252,208.06 L253.3,218.25 L254.7,228.44 L255.9,232.2 L256.4,233 L256.7,237.2 L257,233 L257.5,232.8 L258.5,222.48 L259.7,209.58 L260.5,207 L261.4,210.87 L262.7,219.9 L264.1,228.93 L265.3,232.2 L265.8,233 L266.1,237.2 L266.4,233 L266.4,232.8 L267.4,221.36 L268.6,207.06 L269.4,204.2 L270.3,208.49 L271.6,218.5 L273,228.51 L274.2,232.2 L274.7,233 L275.5,232.8 L276.5,219.92 L277.7,203.82 L278.5,200.6 L279.4,205.43 L280.7,216.7 L282.1,227.97 L283.3,232.2 L283.8,233 L284.6,232.8 L285.6,221.08 L286.8,206.43 L287.6,203.5 L288.5,207.9 L289.8,218.15 L291.2,228.41 L292.4,232.2 L292.9,233 L293.7,232.8 L294.7,221.08 L295.9,206.43 L296.7,203.5 L297.6,207.9 L298.9,218.15 L300.3,228.41 L301.5,232.2 L302,233 L302.8,232.8 L303.8,220.48 L305,205.08 L305.8,202 L306.7,206.62 L308,217.4 L309.4,228.18 L310.6,232.2 L311.1,233 L311.3,232.8 L312.3,220.48 L313.5,205.08 L314.3,202 L315.2,206.62 L315.2,203" stroke="#3189d0" stroke-width="1.4" fill="none" stroke-linejoin="round"/>
<text x="339.2" y="182.6" font-size="6.6" text-anchor="middle" font-weight="bold" fill="#111" stroke="#111" stroke-width="0.33" textLength="24.4" lengthAdjust="spacingAndGlyphs">Walking</text>
<text x="378.3" y="175" font-size="16" text-anchor="start" font-weight="bold" fill="#111" stroke="#111" stroke-width="0.56">f</text>
<text transform="translate(377.1,244.1) rotate(-90)" font-family="Liberation Serif" font-size="9.2" font-weight="bold" fill="#111" stroke="#111" stroke-width="0.3" textLength="15" lengthAdjust="spacingAndGlyphs">ΔI/I</text>
<text transform="translate(380.2,229.7) rotate(-90)" font-family="Liberation Sans" font-size="4.8" font-weight="bold" fill="#333">0</text>
<path d="M390.8,286 L391.1,244 L391.5,288 L391.9,246 L392.3,286 L392.7,250 L393.1,283 L393.8,262 L394.4,289 L395.8,284 L396.8,256.7 L397.1,255.5 L397.45,257 L397.98,278.26 L398.46,274.49 L399.02,288.28 L399.5,283.65 L399.98,289.68 L400.54,283.52 L400.8,263.9 L401.1,262.7 L401.45,264.2 L402.02,276.92 L402.53,274.03 L403.12,287.16 L403.62,285.16 L404.12,289.54 L404.71,281.82 L405,246.7 L405.3,245.5 L405.65,247 L406.09,276.45 L406.52,273.37 L407.03,290.3 L407.46,282.5 L407.89,290.43 L408.4,285.79 L408.6,248.5 L408.9,247.3 L409.25,248.8 L409.69,279.27 L410.12,277.8 L410.63,289.8 L411.06,283.73 L411.49,289.85 L412,280.36 L412.2,260.3 L412.5,259.1 L412.85,260.6 L413.31,276.95 L413.76,275.86 L414.28,287.33 L414.72,282.96 L415.16,288.73 L415.68,285.05 L415.9,263 L416.2,261.8 L416.55,263.3 L416.99,278.6 L417.42,276.1 L417.93,287.93 L418.36,284.09 L418.79,289.92 L419.3,281.67 L419.5,262.1 L419.8,260.9 L420.15,262.4 L420.61,280.99 L421.06,277.47 L421.58,288.86 L422.02,285.73 L422.46,290.99 L422.98,281.38 L423.2,258.5 L423.5,257.3 L423.85,258.8 L424.2,277.45 L424.59,274.15 L425.04,287.01 L425.42,280.82 L425.8,288.21 L426.25,282.32 L426.4,249.4 L426.7,248.2 L427.05,249.7 L427.58,280.79 L428.06,279.79 L428.62,289.91 L429.1,282.9 L429.58,290.54 L430.14,282.82 L430.4,263 L430.7,261.8 L431.05,263.3 L431.43,280.9 L431.82,279.68 L432.28,287.3 L432.68,282.08 L433.08,289.19 L433.54,281.62 L433.7,245.7 L434,244.5 L434.35,246 L434.77,276.44 L435.19,272.54 L435.68,286.72 L436.1,284.53 L436.52,289 L437.01,281.48 L437.2,250.3 L437.5,249.1 L437.85,250.6 L438.29,276.51 L438.72,273.11 L439.23,287.65 L439.66,281.94 L440.09,288.18 L440.6,282.68 L440.8,253.9 L441.1,252.7 L441.45,254.2 L441.83,276.95 L442.22,275.56 L442.68,288.26 L443.08,285.73 L443.48,290.2 L443.94,282.52 L444.1,253.9 L444.4,252.7 L444.75,254.2 L445.04,277.06 L445.39,273.15 L445.79,286.4 L446.14,283.59 L446.49,288.81 L446.89,285.31 L447,251.2 L447.3,250 L447.65,251.5 L447.98,277.05 L448.35,273.49 L448.79,287.26 L449.16,284.78 L449.53,289.18 L449.97,285.94 L450.1,262.1 L450.4,260.9 L450.75,262.4 L451.19,277.07 L451.62,273.75 L452.13,287.79 L452.56,283.59 L452.99,288.77 L453.5,280.44 L453.7,251.7 L454,250.5 L454.35,252 L454.73,276.45 L455.12,274.72 L455.58,287.94 L455.98,284.26 L456.38,289.75 L456.84,282.72 L457,248.5 L457.3,247.3 L457.65,248.8 L458,280.8 L458.39,278.07 L458.84,286.85 L459.22,284.72 L459.6,289.45 L460.05,280.92 L460.2,261.2 L460.5,260 L460.85,261.5 L461.18,280.54 L461.55,278.79 L461.99,289.88 L462.36,283.5 L462.73,290.45 L463.17,285.64 L463.3,253 L463.6,251.8 L463.95,253.3 L464.33,276.98 L464.72,273.34 L465.18,289.04 L465.58,285.16 L465.98,290.85 L466.44,280.62 L466.6,261.2 L466.9,260 L467.25,261.5 L467.67,276.19 L468.09,274.48 L468.58,288.77 L469,285.86 L469.42,290.89 L469.91,284.94 L470.1,259.4 L470.4,258.2 L470.75,259.7 L471.1,278.98 L471.49,277.46 L471.94,286.72 L472.32,284.61 L472.7,288.88 L473.15,281.37 L473.3,249.4 L473.6,248.2 L473.95,249.7 L474.22,278.8 L474.55,275.95 L474.94,289.72 L475.28,282.89 L475.62,290.56 L476.01,281.22 L476.1,249.4 L476.4,248.2 L476.75,249.7 L477.28,276.08 L477.76,273.75 L478.32,288.63 L478.8,284.1 L479.28,288.81 L479.84,282.21 L480.1,261.2 L480.4,260 L480.75,261.5 L481.1,278.86 L481.49,276.77 L481.94,285.72 L482.32,280.47 L482.7,288.39 L483.15,283.94 L483.3,257.6 L483.6,256.4 L483.95,257.9 L484.33,279.46 L484.72,278.04 L485.18,289.65 L485.58,285.68 L485.98,289.75 L486.44,285.46 L486.6,252.1 L486.9,250.9 L487.25,252.4 L487.78,279.5 L488.26,278.44 L488.82,288.98 L489.3,284.96 L489.78,290.89 L490.34,284.38 L490.6,248.5 L490.9,247.3 L491.25,248.8 L491.58,277.59 L491.95,276.37 L492.39,289.36 L492.76,284.05 L493.13,291 L493.57,285.4 L493.7,253 L494,251.8 L494.35,253.3 L494.73,279.69 L495.12,276.31 L495.58,287.37 L495.98,284.7 L496.38,290.11 L496.84,284.11 L497,259.4 L497.3,258.2 L497.65,259.7 L498.09,280.5 L498.52,278.25 L499.03,288.24 L499.46,283.16 L499.89,290.61 L500.4,283.44 L500.6,259.4 L500.9,258.2 L501.25,259.7 L501.63,279.12 L502.02,276.38 L502.48,287.32 L502.88,284.83 L503.28,289.15 L503.74,283.84 L503.9,243 L504.2,241.8 L504.55,243.3 L504.95,280.97 L505.36,277.78 L505.83,289.47 L506.24,283.7 L506.65,290.64 L507.12,283.49 L507.3,253 L507.6,251.8 L507.95,253.3 L508.33,278.2 L508.72,276.95 L509.18,288.26 L509.58,286.4 L509.98,290.52 L510.44,283.61 L510.6,257.6 L510.9,256.4 L511.25,257.9 L511.63,278.4 L512.02,275.31 L512.48,287.2 L512.88,282.23 L513.28,288.69 L513.74,285.52 L513.9,256.7 L514.2,255.5 L514.55,257 L514.95,277.28 L515.36,275.38 L515.83,286 L516.24,283.22 L516.65,288.03 L517.12,281.02 L517.3,253 L517.6,251.8 L517.95,253.3 L518.33,280.53 L518.72,278.2 L519.18,287.3 L519.58,284.67 L519.98,289.98 L520.44,284 L520.6,254.8 L520.9,253.6 L521.25,255.1 L521.63,276.99 L522.02,273.57 L522.48,286.55 L522.88,281.77 L523.28,289.29 L523.74,282.31 L523.9,246.7 L524.2,245.5 L524.55,247 L524.95,278.92 L525.36,277.51 L525.83,287.46 L526.24,281.6 L526.65,288.95 L527.12,285.09 L527.3,260.3 L527.6,259.1 L527.95,260.6 L528.33,279.56 L528.72,277.73 L529.18,290.34 L529.58,285.05 L529.98,290.85 L530.44,281.65 L530.6,246.7 L530.9,245.5 L531.25,247 L531.63,277.07 L532.02,274.19 L532.48,287.76 L532.88,283.98 L533.28,289.24 L533.74,285.03 L533.9,252.1 L534.2,250.9 L534.55,252.4 L534.95,280.91 L535.36,279.69 L535.83,289.26 L536.24,281.87 L536.65,289.36 L537.12,280.25 L537.3,258.5 L537.6,257.3 L537.95,258.8 L538.33,279.54 L538.72,277.62 L539.18,287.34 L539.58,285.64 L539.98,289.71 L540.44,280.82 L540.6,248.5 L540.9,247.3 L541.25,248.8 L541.36,278.27 L541.61,274.79 L541.91,287.36 L542.16,283.51 L542.41,288.07 L542.5,291" stroke="#2079c2" stroke-width="0.9" fill="none" stroke-linejoin="round"/>
<rect x="390.6" y="169.5" width="152.1" height="125.7" fill="none" stroke="#444" stroke-width="1.2"/>
<text x="386.9" y="293.2" font-size="5.1" text-anchor="end" font-weight="bold" fill="#111" stroke="#111" stroke-width="0.26">0</text>
<text x="386.9" y="268.4" font-size="5.1" text-anchor="end" font-weight="bold" fill="#111" stroke="#111" stroke-width="0.26">4</text>
<text x="386.9" y="243.6" font-size="5.1" text-anchor="end" font-weight="bold" fill="#111" stroke="#111" stroke-width="0.26">8</text>
<text x="386.9" y="218.8" font-size="5.1" text-anchor="end" font-weight="bold" fill="#111" stroke="#111" stroke-width="0.26">12</text>
<text x="386.9" y="194" font-size="5.1" text-anchor="end" font-weight="bold" fill="#111" stroke="#111" stroke-width="0.26">16</text>
<path d="M390.6,291.4h-2.2M390.6,279h-1.3M390.6,266.6h-2.2M390.6,254.2h-1.3M390.6,241.8h-2.2M390.6,229.4h-1.3M390.6,217h-2.2M390.6,204.6h-1.3M390.6,192.2h-2.2" stroke="#444" stroke-width="0.8" fill="none"/>
<text x="390.6" y="303.9" font-size="5.1" text-anchor="middle" font-weight="bold" fill="#111" stroke="#111" stroke-width="0.26">0</text>
<text x="428.5" y="303.9" font-size="5.1" text-anchor="middle" font-weight="bold" fill="#111" stroke="#111" stroke-width="0.26">20</text>
<text x="466.4" y="303.9" font-size="5.1" text-anchor="middle" font-weight="bold" fill="#111" stroke="#111" stroke-width="0.26">40</text>
<text x="504.3" y="303.9" font-size="5.1" text-anchor="middle" font-weight="bold" fill="#111" stroke="#111" stroke-width="0.26">60</text>
<text x="542.2" y="303.9" font-size="5.1" text-anchor="middle" font-weight="bold" fill="#111" stroke="#111" stroke-width="0.26">80</text>
<path d="M390.6,295.2v2.2M409.55,295.2v1.3M428.5,295.2v2.2M447.45,295.2v1.3M466.4,295.2v2.2M485.35,295.2v1.3M504.3,295.2v2.2M523.25,295.2v1.3M542.2,295.2v2.2" stroke="#444" stroke-width="0.8" fill="none"/>
<text x="469.3" y="313.4" font-size="8.3" text-anchor="middle" font-weight="bold" fill="#111" stroke="#111" stroke-width="0.29" textLength="31.8" lengthAdjust="spacingAndGlyphs">Time (s)</text>
<rect x="446.9" y="246.4" width="39.5" height="47.2" fill="none" stroke="#3a3a3a" stroke-width="1.1" stroke-dasharray="3.6,3.1"/>
<path d="M464.3,246V242" stroke="#222" stroke-width="0.9"/><path d="M462.5,242.6L464.3,239L466.1,242.6Z" fill="#222"/>
<rect x="400.8" y="189.3" width="95.6" height="48.8" fill="#fff" stroke="#555" stroke-width="0.9"/>
<path d="M401,227 L402.5,225.5 L403.6,219 L404.6,221 L405.5,212 L406.5,205.7 L407.8,227.2 L408.9,225.7 L410.1,217.8 L411.14,220.3 L412.26,214.8 L413.3,205.92 L414.5,196.2 L415.8,228.1 L416.84,226.6 L418.01,213.4 L419.02,215.9 L420.12,210.4 L421.13,202.07 L422.3,192.8 L423.6,226.4 L424.61,224.9 L425.76,216 L426.77,218.5 L427.84,213 L428.85,209.4 L430,204 L431.3,232.4 L432.31,230.9 L433.46,208.3 L434.47,210.8 L435.54,205.3 L436.55,202.58 L437.7,197.9 L439,229.8 L440.19,228.3 L441.44,216 L442.51,218.5 L443.68,213 L444.75,209.95 L446,205 L447.3,230.7 L448.49,229.2 L449.74,216 L450.81,218.5 L451.98,213 L453.06,208.91 L454.3,203.1 L455.6,229.8 L456.61,228.3 L457.76,211.7 L458.77,214.2 L459.84,208.7 L460.85,202.24 L462,194.5 L463.3,230.7 L464.52,229.2 L465.78,207.4 L466.87,209.9 L468.05,204.4 L469.14,199.37 L470.4,192.8 L471.7,235.9 L472.74,234.4 L473.91,218.6 L474.92,221.1 L476.02,215.6 L477.03,204.85 L478.2,193.6 L479.5,231.6 L480.6,230.1 L481.8,216.9 L482.84,219.4 L483.96,213.9 L485,208.38 L486.2,201.4 L487.5,229.8 L488.63,228.3 L489.85,215.2 L490.9,217.7 L492.03,212.2 L493.09,205.25 L494.3,197.1 L495.6,231.6 L496.3,231.6" stroke="#2380c8" stroke-width="1.05" fill="none" stroke-linejoin="round"/>
<text x="519.6" y="182.6" font-size="6.6" text-anchor="middle" font-weight="bold" fill="#111" stroke="#111" stroke-width="0.33" textLength="25.2" lengthAdjust="spacingAndGlyphs">Running</text>
<text x="8.2" y="174.6" font-size="16" text-anchor="start" font-weight="bold" fill="#111" stroke="#111" stroke-width="0.56">d</text>
<defs>
<filter id="bl" x="-5%" y="-5%" width="110%" height="110%"><feGaussianBlur stdDeviation="0.45"/></filter>
<filter id="bl2" x="-10%" y="-10%" width="120%" height="120%"><feGaussianBlur stdDeviation="0.7"/></filter>
<linearGradient id="bgL" x1="0" y1="0" x2="0" y2="1"><stop offset="0" stop-color="#d7e1d5"/><stop offset="1" stop-color="#cfdacd"/></linearGradient>
<linearGradient id="bgR" x1="0" y1="0" x2="1" y2="0"><stop offset="0" stop-color="#c6d2ca"/><stop offset="0.85" stop-color="#cdd8d1"/><stop offset="1" stop-color="#dde4df"/></linearGradient>
<linearGradient id="bgS" x1="0" y1="0" x2="0" y2="1"><stop offset="0" stop-color="#dac9bb"/><stop offset="0.6" stop-color="#ddd1c6"/><stop offset="1" stop-color="#e8e3dc"/></linearGradient>
<linearGradient id="insL" x1="0" y1="0" x2="1" y2="0"><stop offset="0" stop-color="#3d4b4c"/><stop offset="0.6" stop-color="#2f3a3b"/><stop offset="1" stop-color="#222a2b"/></linearGradient>
<pattern id="mesh" width="4.4" height="4.4" patternUnits="userSpaceOnUse" patternTransform="rotate(45)"><path d="M0,0H4.4M0,0V4.4" stroke="#6b7a7c" stroke-width="0.7" opacity="0.55"/></pattern>
<pattern id="mesh2" width="2.6" height="2.6" patternUnits="userSpaceOnUse" patternTransform="rotate(45)"><circle cx="1.3" cy="1.3" r="0.55" fill="#4d5a5c" opacity="0.7"/></pattern>
</defs>
<g filter="url(#bl)">
<rect x="23.3" y="169.4" width="77.4" height="60.2" fill="url(#bgL)"/>
<rect x="100.7" y="169.4" width="76.9" height="60.2" fill="url(#bgR)"/>
<rect x="99.8" y="169.4" width="1.4" height="59.4" fill="#9aa19a" opacity="0.6"/>
<path d="M30.2,182.9 C38,182 44,181.7 48.5,181.7 L76,181.7 C86,182 93.3,189.5 93.3,199.5 C93.3,210 86,218.7 74,218.7 L56.6,218.7 C45,218 36,217 30.2,216.5 Z" fill="url(#insL)"/>
<path d="M30.2,182.9 C38,182 44,181.7 48.5,181.7 L76,181.7 C86,182 93.3,189.5 93.3,199.5 C93.3,210 86,218.7 74,218.7 L56.6,218.7 C45,218 36,217 30.2,216.5 Z" fill="url(#mesh)"/>
<path d="M67.2,182 V218" stroke="#56666a" stroke-width="0.6" opacity="0.6"/>
<path d="M108.5,184 C110,181.5 118,180.8 130,180.6 L152,180.6 C166,181.5 174.7,190 174.7,201 C174.7,213 166,221.8 152,221.8 L114,221.5 C109.5,221 107.5,218 107.6,213 L107.8,206 C106.8,200 107.3,190 108.5,184 Z" fill="#20272a"/>
<path d="M108.5,184 C110,181.5 118,180.8 130,180.6 L152,180.6 C166,181.5 174.7,190 174.7,201 C174.7,213 166,221.8 152,221.8 L114,221.5 C109.5,221 107.5,218 107.6,213 L107.8,206 C106.8,200 107.3,190 108.5,184 Z" fill="url(#mesh2)" opacity="0.9"/>
<rect x="23.3" y="229.6" width="154.3" height="65.6" fill="url(#bgS)"/>
<linearGradient id="bgS2" x1="0" y1="0" x2="1" y2="0"><stop offset="0" stop-color="#fff" stop-opacity="0"/><stop offset="0.6" stop-color="#fff" stop-opacity="0.15"/><stop offset="1" stop-color="#fff" stop-opacity="0.5"/></linearGradient>
<rect x="23.3" y="229.6" width="154.3" height="30" fill="url(#bgS2)"/>
<path d="M25.8,266 C26.5,258 32,252 40,249 C46,246 53,243.5 60,242.2 C70,240.5 85,239.8 100,239.3 L131,239 C150,239.5 163,244 170,253 C173,257 173.8,261 173.8,265.3 C173.8,276 166,285 152.8,287.5 L120,290.5 C100,290.3 80,288 65.9,285.5 C52,283 44,282 41.7,280.6 C32,276 26.8,271 26.8,265 Z" fill="#262629"/>
<path d="M30,264 C31,256 37,249 46,245.5 C55,243 64,244 70,247 C74,255 74,270 70,280 C60,282 48,281 40,277 C33,273 30,269 30,264Z" fill="#2a292d" opacity="0.9"/>
<path d="M62,247 C75,250 90,255 104,262 M66,258 C80,252 92,248 104,249 M70,270 C80,272 95,276 106,280 M74,277 C82,268 90,258 98,252 M82,246 C86,258 90,272 97,286 M60,274 C72,268 84,262 100,262 M92,243 C98,250 102,258 106,268" stroke="#1a1a1c" stroke-width="1.8" fill="none" opacity="0.9"/>
<path d="M64,249 C76,252 90,257 102,263 M68,260 C80,254 92,250 102,251 M72,272 C82,274 95,277 104,281 M84,248 C88,260 92,273 98,285" stroke="#3a3a3e" stroke-width="0.9" fill="none" opacity="0.8"/>
<path d="M104,250 C108,244 130,242.5 150,243 C163,244 171,252 172,263 C172.5,274 166,283 152,285 L118,285.5 C108,284 103,276 102,266 C101.5,259 102,254 104,250 Z" fill="#1a1a1c"/>
<path d="M101,249 C106,246 116,246 120,250 L121,279 C114,282 106,281 102,276 C100,268 100,256 101,249Z" fill="#2e2e31"/>
<path d="M105,253 C108,251 114,251 116,254 L116,262 C113,265 107,265 105,262Z" fill="#434348"/>
<rect x="123.9" y="249.9" width="33.3" height="27.4" fill="#333336"/>
<pattern id="dots" width="1.8" height="1.8" patternUnits="userSpaceOnUse"><circle cx="0.9" cy="0.9" r="0.35" fill="#8a8a90" opacity="0.6"/></pattern>
<rect x="123.9" y="249.9" width="33.3" height="27.4" fill="url(#dots)"/>
<path d="M140.5,258 L143,255.5 L147,256 L150,254.5 L153.5,255.5 L155.8,258 L155.5,263 L156.2,267 L155,272 L152,275 L147,276 L143,274.5 L140,271 L139.8,265 Z" fill="#a86c52"/>
<path d="M143,259 L148,258 L152,260 L153,265 L150,270 L145,271 L142.5,266 Z" fill="#c08a6c" opacity="0.8"/>
<path d="M144,262 L147,260 M149,266 L153,263 M145,269 L148,267 M151,258 L154,260" stroke="#e8c0a0" stroke-width="0.8" opacity="0.7"/>
<path d="M142,270 L146,273 M150,272 L153,268 M147,263 L150,265" stroke="#6a3a2a" stroke-width="0.8" opacity="0.7"/>
<path d="M109,278.4 L118.8,278.4" stroke="#a9c83e" stroke-width="1.3" opacity="0.9"/>
<path d="M159.4,265.3 L177,268" stroke="#1a1a1a" stroke-width="0.8"/>
<ellipse cx="36.3" cy="291.4" rx="2" ry="1.2" fill="#f4f0d0" opacity="0.8"/>
</g>
<path d="M100.2,228.6 L123.9,249.9" stroke="#d4505a" stroke-width="0.8" opacity="0.85"/>
<path d="M177,228.6 L157.2,249.9" stroke="#d4505a" stroke-width="0.8" opacity="0.85"/>
<rect x="123.9" y="249.9" width="33.3" height="27.4" fill="none" stroke="#a8282e" stroke-width="1"/>
<text x="59" y="177.8" font-size="7.3" font-weight="bold" text-anchor="middle" fill="#111" stroke="#111" stroke-width="0.3" textLength="40.3" lengthAdjust="spacingAndGlyphs">Before foam</text>
<text x="139.8" y="177.2" font-size="7.3" font-weight="bold" text-anchor="middle" fill="#111" stroke="#111" stroke-width="0.3" textLength="35" lengthAdjust="spacingAndGlyphs">After foam</text>
<!-- walking photo -->
<g filter="url(#bl)">
<rect x="325" y="188.5" width="29.1" height="49.1" fill="#e4e2e0"/>
<rect x="340" y="188.5" width="14.1" height="40" fill="#eae8e6"/>
<rect x="325" y="228.3" width="29.1" height="9.3" fill="#dbd4be"/>
<path d="M335,194 L345.8,194 C346.2,205 345.3,218 343.8,229.5 L336.8,229.5 C335.8,218 334.6,205 335,194 Z" fill="#33504f"/>
<path d="M340.5,200 L341.2,229" stroke="#243a3c" stroke-width="0.8"/>
<path d="M333,188.5 L348,188.5 L354.1,189.5 L354.1,196.5 L351,195.5 L348.5,193 L346,195.5 L337,195.5 L336,202.5 L332.6,202.5 L332,195 Z" fill="#4286c6"/>
<path d="M334,230.8 C337,229.3 342,229.3 344.8,230.8 L345.2,235.5 C341,237.2 336,237 333.2,235.8Z" fill="#141414"/>
</g>
<g filter="url(#bl)">
<rect x="505" y="189" width="29.1" height="48.6" fill="#e2e1df"/>
<rect x="520" y="189" width="14.1" height="38.5" fill="#e9e8e6"/>
<rect x="505" y="227.5" width="29.1" height="10.1" fill="#d9d2bb"/>
<path d="M516,195.5 L524,195.5 L523.5,212 L522.8,228.5 L518,228.5 L517.4,212 Z" fill="#2b4649"/>
<path d="M516.5,195.5 L527,195 C530,198 531.5,204 530.8,212 L526.5,214.5 C524.5,210 521,205 516.5,195.5 Z" fill="#2e4b4e"/>
<path d="M530.8,211 L526.3,214.8 L519.5,219.5 L516.8,215.5 L524,208.5 Z" fill="#2e4b4e"/>
<path d="M515.5,189 L529,189 L529.6,195.3 C526,196.6 520,196.6 515.5,196 Z" fill="#3f86c9"/>
<path d="M515.2,214.2 L519.6,213.6 L521,221.8 L516.5,222.4 Z" fill="#161616"/>
<path d="M517.2,229 L523.5,229 L525,233.4 L517.2,233.6 Z" fill="#161616"/>
</g>

</svg></body></html>
